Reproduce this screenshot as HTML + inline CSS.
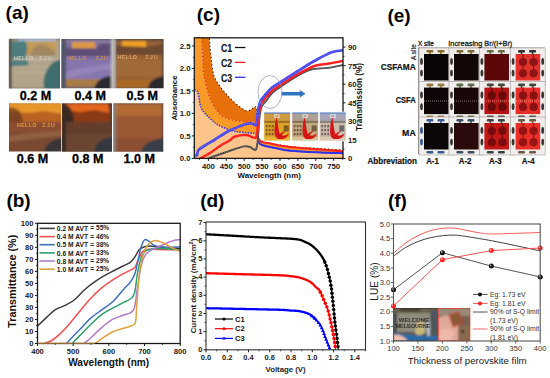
<!DOCTYPE html>
<html><head><meta charset="utf-8"><style>
html,body{margin:0;padding:0;background:#fff;width:550px;height:378px;overflow:hidden}
svg{display:block}
text{font-family:"Liberation Sans",sans-serif}
</style></head><body>
<svg width="550" height="378" viewBox="0 0 550 378">
<rect width="550" height="378" fill="#fff"/>
<text x="5.6" y="19.2" style="font-weight:bold;font-size:19px" fill="#000">(a)</text>
<defs>
<filter id="blr" x="-5%" y="-5%" width="110%" height="110%"><feGaussianBlur stdDeviation="0.9"/></filter>
<filter id="blr2" x="-5%" y="-5%" width="110%" height="110%"><feGaussianBlur stdDeviation="1.6"/></filter>
<clipPath id="ph1"><rect x="8.8" y="38.8" width="51.2" height="49.7"/></clipPath>
<clipPath id="ph2"><rect x="61.3" y="39" width="50.7" height="49.3"/></clipPath>
<clipPath id="ph3"><rect x="112.3" y="39" width="51.3" height="49.3"/></clipPath>
<clipPath id="ph4"><rect x="9" y="103.3" width="52.3" height="48.2"/></clipPath>
<clipPath id="ph5"><rect x="62" y="103.3" width="50" height="48.5"/></clipPath>
<clipPath id="ph6"><rect x="113.3" y="103.3" width="50" height="48.5"/></clipPath>
</defs>
<g clip-path="url(#ph1)"><g filter="url(#blr)">
<rect x="6" y="36" width="58" height="56" fill="#7a7068"/>
<rect x="12" y="40" width="48" height="48" fill="#b0a48a"/>
<rect x="18" y="39" width="38" height="2.5" fill="#a8c0d8"/>
<rect x="22" y="41.5" width="34" height="13" fill="#c49a58"/>
<path d="M34,47 C38,44 44,44 48,47 L55,52 L55,56 L30,56 Z" fill="#8a7a62" opacity="0.6"/>
<path d="M11,41 L25,41 C28,45 28,52 25,57 C27,60 28,62 29,65 L11,67 Z" fill="#4d7d7b"/>
<rect x="12" y="59" width="48" height="1" fill="#c8c0a8"/>
<rect x="12" y="66" width="40" height="1.2" fill="#c0b498" opacity="0.8"/>
<rect x="12" y="72" width="36" height="1.2" fill="#c0b498" opacity="0.8"/>
<path d="M58,60 C51,62 46,70 44,78 C43,84 44,88 45,90 L62,90 L62,60 Z" fill="#3f6e6e"/>


<rect x="8.8" y="38.8" width="2.6" height="50" fill="#5a5048"/>
</g><g opacity="0.85"><text x="14" y="60" style="font-size:5.4px;font-weight:bold;letter-spacing:0.3px" fill="#d8d4c8">HELLO</text><text x="39" y="60" style="font-size:5.6px;font-weight:bold;letter-spacing:1px" fill="#d0ccc0">ZJU</text></g></g>
<g clip-path="url(#ph2)"><g filter="url(#blr)">
<rect x="58" y="36" width="58" height="56" fill="#5a5a6a"/>
<rect x="66" y="40" width="46" height="47" fill="#7c6c9c"/>
<rect x="66" y="40" width="46" height="3" fill="#8a7aa0"/>
<path d="M72,42 L95,42 L96,48.5 L72,48.5 Z" fill="#dc9a44"/>
<path d="M66,48 L72,48.5 L96,48.5 L100,44 L112,43 L112,56 L66,56 Z" fill="#5e4e74"/>
<rect x="66" y="60" width="46" height="20" fill="#8676ae"/>
<path d="M66,72 C80,68 95,66 112,64 L112,69 C95,71 80,75 66,79 Z" fill="#a090c0" opacity="0.6"/>
<rect x="66" y="79" width="46" height="8" fill="#aa7c44"/>
<path d="M94,90 C95,82 101,76 114,76 L114,90 Z" fill="#2a2a32"/>


<rect x="61.3" y="39" width="4.5" height="50" fill="#505868"/>
<rect x="111" y="39" width="2" height="50" fill="#c0c0c4"/>
</g><g opacity="0.85"><text x="67" y="60" style="font-size:5.4px;font-weight:bold;letter-spacing:0.3px" fill="#d8984a">HELLO</text><text x="95.5" y="60" style="font-size:5.6px;font-weight:bold;letter-spacing:1px" fill="#d8984a">ZJU</text></g></g>
<g clip-path="url(#ph3)"><g filter="url(#blr)">
<rect x="109" y="36" width="58" height="56" fill="#5a4a40"/>
<rect x="116" y="41" width="46" height="46" fill="#9a6232"/>
<rect x="122" y="41" width="24" height="6" fill="#f0a020"/>
<path d="M116,45 L122,46 L146,47 L162,44 L162,55 L116,55 Z" fill="#6e4a30"/>
<rect x="116" y="60" width="46" height="16" fill="#a06a38"/>
<rect x="116" y="80" width="46" height="8" fill="#a86a26"/>
<path d="M148,90 C148,82 154,77 166,76 L166,90 Z" fill="#2a2a2e"/>


<rect x="112.3" y="39" width="3" height="50" fill="#c8c8c4"/>
</g><g opacity="0.85"><text x="117.5" y="58.5" style="font-size:5.4px;font-weight:bold;letter-spacing:0.3px" fill="#e0b878">HELLO</text><text x="145.3" y="58.5" style="font-size:5.6px;font-weight:bold;letter-spacing:1px" fill="#d8b070">ZJU</text></g></g>
<g clip-path="url(#ph4)"><g filter="url(#blr)">
<rect x="6" y="100" width="58" height="55" fill="#7a4a30"/>
<rect x="9" y="103" width="53" height="14" fill="#e8962c"/>
<path d="M9,112 L30,113 L45,111 L62,114 L62,122 L9,122 Z" fill="#b86420"/>
<path d="M9,108 C15,106 20,110 22,117 C23,122 22,128 20,134 L9,136 Z" fill="#6a3a22" opacity="0.75"/>
<rect x="9" y="122" width="53" height="10" fill="#8a5030"/>
<rect x="9" y="132" width="53" height="20" fill="#7a4a32"/>
<path d="M9,136 C25,133 40,132 62,131 L62,136 C40,138 25,140 9,142 Z" fill="#9a6a48" opacity="0.7"/>
<path d="M44,153 C45,144 52,139 64,138 L64,153 Z" fill="#3a3438"/>


</g><g opacity="0.85"><text x="17" y="127" style="font-size:5.4px;font-weight:bold;letter-spacing:0.3px" fill="#f0a040">HELLO</text><text x="42.3" y="127" style="font-size:5.6px;font-weight:bold;letter-spacing:1px" fill="#f0a040">ZJU</text></g></g>
<g clip-path="url(#ph5)"><g filter="url(#blr)">
<rect x="59" y="100" width="58" height="55" fill="#5a3a2a"/>
<path d="M66,104 L108,104 L110,116 L66,118 Z" fill="#e4661a"/>
<path d="M66,110 L80,112 L95,110 L110,113 L110,122 L66,122 Z" fill="#8a3a18"/>
<path d="M62,104 C70,104 74,112 74,124 L74,152 L62,152 Z" fill="#3a2a22"/>
<rect x="66" y="122" width="46" height="30" fill="#5e3c2c"/>
<rect x="66" y="134" width="46" height="18" fill="#6a4432"/>
<path d="M94,153 C95,143 101,138 114,137 L114,153 Z" fill="#363840"/>


</g><g opacity="0.85"><text x="70.7" y="127" style="font-size:5.4px;font-weight:bold;letter-spacing:0.3px" fill="#7a4030">HELLO</text><text x="92" y="127" style="font-size:5.6px;font-weight:bold;letter-spacing:1px" fill="#7a4030">ZJU</text></g></g>
<g clip-path="url(#ph6)"><g filter="url(#blr)">
<rect x="110" y="100" width="58" height="55" fill="#6a4a3a"/>
<rect x="116" y="104" width="46" height="12" fill="#b26a34"/>
<rect x="116" y="116" width="46" height="22" fill="#9c5834"/>
<rect x="116" y="138" width="46" height="14" fill="#8c5030"/>
<path d="M140,154 C142,145 150,139 166,138 L166,154 Z" fill="#383c46"/>
<rect x="113.3" y="103.3" width="2.5" height="49" fill="#8a8a88"/>
</g><g opacity="0.85"></g></g>
<text x="35.5" y="99.6" text-anchor="middle" style="font-weight:bold;font-size:12.6px" fill="#000" stroke="#000" stroke-width="0.3">0.2 M</text>
<text x="90.3" y="99.6" text-anchor="middle" style="font-weight:bold;font-size:12.6px" fill="#000" stroke="#000" stroke-width="0.3">0.4 M</text>
<text x="142.2" y="99.6" text-anchor="middle" style="font-weight:bold;font-size:12.6px" fill="#000" stroke="#000" stroke-width="0.3">0.5 M</text>
<text x="32.6" y="162.7" text-anchor="middle" style="font-weight:bold;font-size:12.6px" fill="#000" stroke="#000" stroke-width="0.3">0.6 M</text>
<text x="87.8" y="162.7" text-anchor="middle" style="font-weight:bold;font-size:12.6px" fill="#000" stroke="#000" stroke-width="0.3">0.8 M</text>
<text x="139.3" y="162.7" text-anchor="middle" style="font-weight:bold;font-size:12.6px" fill="#000" stroke="#000" stroke-width="0.3">1.0 M</text>
<text x="6.4" y="207.1" style="font-weight:bold;font-size:19px" fill="#000">(b)</text>
<clipPath id="clipb"><rect x="37.5" y="223.3" width="142.7" height="120.2"/></clipPath>
<path d="M37.50,326.07 C38.99,324.67 43.51,320.36 46.42,317.66 C49.33,314.95 51.95,311.85 54.98,309.84 C58.01,307.84 61.34,307.32 64.61,305.64 C67.88,303.95 71.27,302.39 74.60,299.75 C77.93,297.10 81.26,292.74 84.59,289.77 C87.92,286.81 91.43,284.22 94.58,281.96 C97.73,279.69 100.53,277.95 103.50,276.19 C106.47,274.43 109.15,273.08 112.42,271.38 C115.69,269.68 120.15,267.47 123.12,265.97 C126.09,264.47 128.29,263.87 130.25,262.37 C132.22,260.86 133.41,259.06 134.89,256.96 C136.38,254.85 137.57,251.45 139.17,249.74 C140.78,248.04 142.44,247.34 144.53,246.74 C146.61,246.14 148.69,246.04 151.66,246.14 C154.63,246.24 159.09,247.04 162.36,247.34 C165.63,247.64 168.31,247.74 171.28,247.94 C174.25,248.14 178.71,248.44 180.20,248.54" fill="none" stroke="#3c3c3c" stroke-width="1.5" clip-path="url(#clipb)"/>
<path d="M43.92,343.50 C45.23,343.00 49.09,342.10 51.77,340.50 C54.45,338.89 57.00,336.69 59.98,333.88 C62.95,331.08 66.28,327.47 69.61,323.67 C72.94,319.86 76.56,315.11 79.95,311.05 C83.34,306.98 86.61,302.87 89.94,299.27 C93.27,295.66 96.19,292.60 99.93,289.41 C103.68,286.22 108.55,282.76 112.42,280.15 C116.28,277.55 120.15,275.45 123.12,273.78 C126.09,272.12 128.47,271.08 130.25,270.18 C132.04,269.28 132.87,269.18 133.82,268.38 C134.77,267.57 135.25,266.77 135.96,265.37 C136.68,263.97 137.15,262.06 138.10,259.96 C139.05,257.86 140.48,254.45 141.67,252.75 C142.86,251.05 143.57,250.35 145.24,249.74 C146.90,249.14 148.21,249.14 151.66,249.14 C155.11,249.14 161.17,249.64 165.93,249.74 C170.69,249.84 177.82,249.74 180.20,249.74" fill="none" stroke="#f05050" stroke-width="1.5" clip-path="url(#clipb)"/>
<path d="M66.40,343.50 C67.53,342.30 70.86,338.69 73.17,336.29 C75.49,333.88 77.52,331.98 80.31,329.08 C83.10,326.17 86.37,322.06 89.94,318.86 C93.51,315.65 97.97,312.65 101.71,309.84 C105.46,307.04 108.79,305.44 112.42,302.03 C116.04,298.63 120.50,292.72 123.48,289.41 C126.45,286.10 128.35,284.80 130.25,282.20 C132.16,279.59 133.58,277.49 134.89,273.78 C136.20,270.08 137.09,264.37 138.10,259.96 C139.11,255.55 140.07,250.45 140.96,247.34 C141.85,244.23 142.68,242.63 143.45,241.33 C144.23,240.03 144.52,239.43 145.60,239.53 C146.67,239.63 148.33,240.91 149.88,241.93 C151.42,242.95 152.20,244.76 154.87,245.66 C157.55,246.56 161.71,247.16 165.93,247.34 C170.15,247.52 177.82,246.84 180.20,246.74" fill="none" stroke="#3f72bd" stroke-width="1.5" clip-path="url(#clipb)"/>
<path d="M72.10,343.50 C73.47,342.10 77.34,338.13 80.31,335.09 C83.28,332.04 86.37,328.64 89.94,325.23 C93.51,321.82 97.97,317.48 101.71,314.65 C105.46,311.83 108.85,310.28 112.42,308.28 C115.98,306.28 120.15,304.17 123.12,302.63 C126.09,301.09 128.35,300.63 130.25,299.03 C132.16,297.42 133.35,297.22 134.54,293.02 C135.73,288.81 136.32,279.59 137.39,273.78 C138.46,267.97 139.77,261.76 140.96,258.16 C142.15,254.55 143.34,253.55 144.53,252.15 C145.71,250.75 145.71,250.35 148.09,249.74 C150.47,249.14 153.44,248.54 158.79,248.54 C164.15,248.54 176.63,249.54 180.20,249.74" fill="none" stroke="#2ea06c" stroke-width="1.5" clip-path="url(#clipb)"/>
<path d="M83.88,343.50 C84.89,342.70 87.27,341.10 89.94,338.69 C92.62,336.29 96.19,332.28 99.93,329.08 C103.68,325.87 108.55,321.76 112.42,319.46 C116.28,317.16 120.15,316.35 123.12,315.25 C126.09,314.15 128.35,314.15 130.25,312.85 C132.16,311.55 133.35,311.55 134.54,307.44 C135.73,303.33 136.32,295.02 137.39,288.21 C138.46,281.40 139.77,271.88 140.96,266.57 C142.15,261.26 143.04,258.96 144.53,256.36 C146.01,253.75 146.90,252.85 149.88,250.95 C152.85,249.04 158.50,246.64 162.36,244.94 C166.23,243.23 170.09,241.59 173.06,240.73 C176.04,239.87 179.01,239.93 180.20,239.77" fill="none" stroke="#b07cc8" stroke-width="1.5" clip-path="url(#clipb)"/>
<path d="M94.94,343.50 C96.07,342.70 98.80,340.62 101.71,338.69 C104.63,336.77 108.85,333.66 112.42,331.96 C115.98,330.26 120.15,329.42 123.12,328.48 C126.09,327.53 128.23,327.21 130.25,326.31 C132.28,325.41 134.18,326.21 135.25,323.07 C136.32,319.92 136.14,314.19 136.68,307.44 C137.21,300.69 137.75,289.77 138.46,282.56 C139.17,275.35 139.95,269.44 140.96,264.17 C141.97,258.90 143.22,254.35 144.53,250.95 C145.83,247.54 147.02,245.48 148.81,243.73 C150.59,241.99 152.97,240.69 155.23,240.49 C157.49,240.29 159.69,241.39 162.36,242.53 C165.04,243.67 168.31,245.84 171.28,247.34 C174.25,248.84 178.71,250.85 180.20,251.55" fill="none" stroke="#e0a040" stroke-width="1.5" clip-path="url(#clipb)"/>
<rect x="37.5" y="223.3" width="142.7" height="120.2" fill="none" stroke="#1a1a1a" stroke-width="1.3"/>
<line x1="37.5" y1="343.2" x2="94.9" y2="343.2" stroke="#c89040" stroke-width="1"/>
<line x1="35.0" y1="343.5" x2="37.5" y2="343.5" stroke="#1a1a1a" stroke-width="1"/>
<text x="33.5" y="346.3" text-anchor="end" style="font-weight:bold;font-size:7.6px" fill="#1a1a1a">0</text>
<line x1="35.0" y1="331.5" x2="37.5" y2="331.5" stroke="#1a1a1a" stroke-width="1"/>
<text x="33.5" y="334.3" text-anchor="end" style="font-weight:bold;font-size:7.6px" fill="#1a1a1a">10</text>
<line x1="35.0" y1="319.5" x2="37.5" y2="319.5" stroke="#1a1a1a" stroke-width="1"/>
<text x="33.5" y="322.3" text-anchor="end" style="font-weight:bold;font-size:7.6px" fill="#1a1a1a">20</text>
<line x1="35.0" y1="307.4" x2="37.5" y2="307.4" stroke="#1a1a1a" stroke-width="1"/>
<text x="33.5" y="310.2" text-anchor="end" style="font-weight:bold;font-size:7.6px" fill="#1a1a1a">30</text>
<line x1="35.0" y1="295.4" x2="37.5" y2="295.4" stroke="#1a1a1a" stroke-width="1"/>
<text x="33.5" y="298.2" text-anchor="end" style="font-weight:bold;font-size:7.6px" fill="#1a1a1a">40</text>
<line x1="35.0" y1="283.4" x2="37.5" y2="283.4" stroke="#1a1a1a" stroke-width="1"/>
<text x="33.5" y="286.2" text-anchor="end" style="font-weight:bold;font-size:7.6px" fill="#1a1a1a">50</text>
<line x1="35.0" y1="271.4" x2="37.5" y2="271.4" stroke="#1a1a1a" stroke-width="1"/>
<text x="33.5" y="274.2" text-anchor="end" style="font-weight:bold;font-size:7.6px" fill="#1a1a1a">60</text>
<line x1="35.0" y1="259.4" x2="37.5" y2="259.4" stroke="#1a1a1a" stroke-width="1"/>
<text x="33.5" y="262.2" text-anchor="end" style="font-weight:bold;font-size:7.6px" fill="#1a1a1a">70</text>
<line x1="35.0" y1="247.3" x2="37.5" y2="247.3" stroke="#1a1a1a" stroke-width="1"/>
<text x="33.5" y="250.1" text-anchor="end" style="font-weight:bold;font-size:7.6px" fill="#1a1a1a">80</text>
<line x1="35.0" y1="235.3" x2="37.5" y2="235.3" stroke="#1a1a1a" stroke-width="1"/>
<text x="33.5" y="238.1" text-anchor="end" style="font-weight:bold;font-size:7.6px" fill="#1a1a1a">90</text>
<line x1="35.0" y1="223.3" x2="37.5" y2="223.3" stroke="#1a1a1a" stroke-width="1"/>
<text x="33.5" y="226.1" text-anchor="end" style="font-weight:bold;font-size:7.6px" fill="#1a1a1a">100</text>
<line x1="36.0" y1="337.5" x2="37.5" y2="337.5" stroke="#1a1a1a" stroke-width="0.8"/>
<line x1="36.0" y1="325.5" x2="37.5" y2="325.5" stroke="#1a1a1a" stroke-width="0.8"/>
<line x1="36.0" y1="313.4" x2="37.5" y2="313.4" stroke="#1a1a1a" stroke-width="0.8"/>
<line x1="36.0" y1="301.4" x2="37.5" y2="301.4" stroke="#1a1a1a" stroke-width="0.8"/>
<line x1="36.0" y1="289.4" x2="37.5" y2="289.4" stroke="#1a1a1a" stroke-width="0.8"/>
<line x1="36.0" y1="277.4" x2="37.5" y2="277.4" stroke="#1a1a1a" stroke-width="0.8"/>
<line x1="36.0" y1="265.4" x2="37.5" y2="265.4" stroke="#1a1a1a" stroke-width="0.8"/>
<line x1="36.0" y1="253.3" x2="37.5" y2="253.3" stroke="#1a1a1a" stroke-width="0.8"/>
<line x1="36.0" y1="241.3" x2="37.5" y2="241.3" stroke="#1a1a1a" stroke-width="0.8"/>
<line x1="36.0" y1="229.3" x2="37.5" y2="229.3" stroke="#1a1a1a" stroke-width="0.8"/>
<line x1="37.5" y1="343.5" x2="37.5" y2="346.0" stroke="#1a1a1a" stroke-width="1"/>
<text x="37.5" y="354.2" text-anchor="middle" style="font-weight:bold;font-size:7.6px" fill="#1a1a1a">400</text>
<line x1="73.2" y1="343.5" x2="73.2" y2="346.0" stroke="#1a1a1a" stroke-width="1"/>
<text x="73.2" y="354.2" text-anchor="middle" style="font-weight:bold;font-size:7.6px" fill="#1a1a1a">500</text>
<line x1="108.8" y1="343.5" x2="108.8" y2="346.0" stroke="#1a1a1a" stroke-width="1"/>
<text x="108.8" y="354.2" text-anchor="middle" style="font-weight:bold;font-size:7.6px" fill="#1a1a1a">600</text>
<line x1="144.5" y1="343.5" x2="144.5" y2="346.0" stroke="#1a1a1a" stroke-width="1"/>
<text x="144.5" y="354.2" text-anchor="middle" style="font-weight:bold;font-size:7.6px" fill="#1a1a1a">700</text>
<line x1="180.2" y1="343.5" x2="180.2" y2="346.0" stroke="#1a1a1a" stroke-width="1"/>
<text x="180.2" y="354.2" text-anchor="middle" style="font-weight:bold;font-size:7.6px" fill="#1a1a1a">800</text>
<line x1="55.3" y1="343.5" x2="55.3" y2="345.0" stroke="#1a1a1a" stroke-width="0.8"/>
<line x1="91.0" y1="343.5" x2="91.0" y2="345.0" stroke="#1a1a1a" stroke-width="0.8"/>
<line x1="126.7" y1="343.5" x2="126.7" y2="345.0" stroke="#1a1a1a" stroke-width="0.8"/>
<line x1="162.4" y1="343.5" x2="162.4" y2="345.0" stroke="#1a1a1a" stroke-width="0.8"/>
<text x="108.7" y="365.6" text-anchor="middle" style="font-weight:bold;font-size:10.1px" fill="#111">Wavelength (nm)</text>
<text transform="translate(15.5,281.2) rotate(-90)" text-anchor="middle" style="font-weight:bold;font-size:10.8px" fill="#111">Transmittance (%)</text>
<line x1="39.5" y1="228.4" x2="54.8" y2="228.4" stroke="#3c3c3c" stroke-width="1.6"/>
<text x="56.8" y="231.0" textLength="31.3" lengthAdjust="spacingAndGlyphs" style="font-weight:bold;font-size:6.9px" fill="#222">0.2 M AVT</text>
<text x="90.3" y="230.3" textLength="18.9" lengthAdjust="spacingAndGlyphs" style="font-weight:bold;font-size:6.9px" fill="#222">= 55%</text>
<line x1="39.5" y1="236.6" x2="54.8" y2="236.6" stroke="#f05050" stroke-width="1.6"/>
<text x="56.8" y="239.2" textLength="31.3" lengthAdjust="spacingAndGlyphs" style="font-weight:bold;font-size:6.9px" fill="#222">0.4 M AVT</text>
<text x="90.3" y="238.5" textLength="18.9" lengthAdjust="spacingAndGlyphs" style="font-weight:bold;font-size:6.9px" fill="#222">= 46%</text>
<line x1="39.5" y1="244.7" x2="54.8" y2="244.7" stroke="#3f72bd" stroke-width="1.6"/>
<text x="56.8" y="247.3" textLength="31.3" lengthAdjust="spacingAndGlyphs" style="font-weight:bold;font-size:6.9px" fill="#222">0.5 M AVT</text>
<text x="90.3" y="246.6" textLength="18.9" lengthAdjust="spacingAndGlyphs" style="font-weight:bold;font-size:6.9px" fill="#222">= 38%</text>
<line x1="39.5" y1="252.9" x2="54.8" y2="252.9" stroke="#2ea06c" stroke-width="1.6"/>
<text x="56.8" y="255.5" textLength="31.3" lengthAdjust="spacingAndGlyphs" style="font-weight:bold;font-size:6.9px" fill="#222">0.6 M AVT</text>
<text x="90.3" y="254.8" textLength="18.9" lengthAdjust="spacingAndGlyphs" style="font-weight:bold;font-size:6.9px" fill="#222">= 33%</text>
<line x1="39.5" y1="261.0" x2="54.8" y2="261.0" stroke="#b07cc8" stroke-width="1.6"/>
<text x="56.8" y="263.6" textLength="31.3" lengthAdjust="spacingAndGlyphs" style="font-weight:bold;font-size:6.9px" fill="#222">0.8 M AVT</text>
<text x="90.3" y="262.9" textLength="18.9" lengthAdjust="spacingAndGlyphs" style="font-weight:bold;font-size:6.9px" fill="#222">= 29%</text>
<line x1="39.5" y1="269.2" x2="54.8" y2="269.2" stroke="#e0a040" stroke-width="1.6"/>
<text x="56.8" y="271.8" textLength="31.3" lengthAdjust="spacingAndGlyphs" style="font-weight:bold;font-size:6.9px" fill="#222">1.0 M AVT</text>
<text x="90.3" y="271.1" textLength="18.9" lengthAdjust="spacingAndGlyphs" style="font-weight:bold;font-size:6.9px" fill="#222">= 25%</text>
<text x="196.8" y="21" style="font-weight:bold;font-size:19px" fill="#000">(c)</text>
<clipPath id="clipc"><rect x="194.3" y="37.8" width="148.7" height="120.6"/></clipPath>
<polygon points="194.30,89.50 194.58,89.65 194.96,89.77 195.41,89.91 195.91,90.11 196.43,90.40 196.93,90.82 197.40,91.41 197.80,92.20 198.14,93.28 198.44,94.65 198.72,96.21 198.98,97.89 199.22,99.60 199.47,101.24 199.73,102.74 200.00,104.00 200.25,105.01 200.45,105.86 200.64,106.59 200.84,107.24 201.07,107.86 201.38,108.50 201.78,109.19 202.30,110.00 202.97,110.92 203.76,111.91 204.65,112.94 205.60,114.00 206.59,115.06 207.59,116.09 208.57,117.08 209.50,118.00 210.39,118.86 211.26,119.69 212.13,120.48 213.00,121.25 213.88,121.98 214.76,122.69 215.67,123.36 216.60,124.00 217.54,124.60 218.48,125.15 219.43,125.67 220.39,126.16 221.38,126.63 222.41,127.09 223.48,127.54 224.60,128.00 225.75,128.47 226.92,128.93 228.12,129.40 229.36,129.85 230.66,130.28 232.02,130.69 233.46,131.07 235.00,131.40 236.72,131.69 238.64,131.95 240.68,132.17 242.78,132.36 244.83,132.54 246.78,132.70 248.52,132.85 250.00,133.00 251.21,133.12 252.24,133.20 253.12,133.25 253.86,133.30 254.49,133.36 255.04,133.45 255.54,133.59 256.00,133.80 256.39,134.07 256.66,134.39 256.84,134.75 256.95,135.14 257.03,135.56 257.09,136.02 257.17,136.50 257.30,137.00 257.44,137.55 257.55,138.17 257.66,138.83 257.76,139.51 257.89,140.19 258.04,140.85 258.24,141.46 258.50,142.00 258.76,142.47 258.99,142.89 259.23,143.27 259.51,143.62 259.89,143.96 260.40,144.30 261.09,144.64 262.00,145.00 263.16,145.38 264.54,145.76 266.09,146.15 267.78,146.53 269.56,146.91 271.39,147.29 273.21,147.65 275.00,148.00 276.68,148.34 278.26,148.68 279.82,149.00 281.44,149.33 283.19,149.64 285.15,149.94 287.39,150.22 290.00,150.50 293.08,150.77 296.60,151.02 300.44,151.27 304.47,151.51 308.57,151.74 312.61,151.94 316.46,152.13 320.00,152.30 323.41,152.44 326.88,152.57 330.32,152.67 333.62,152.76 336.69,152.84 339.43,152.90 341.73,152.95 343.50,153.00 343.5,158.4 194.3,158.4" fill="#fdc48c" clip-path="url(#clipc)"/>
<polygon points="194.30,36.80 201.30,20.00 201.33,21.28 201.37,22.87 201.41,24.75 201.46,26.91 201.52,29.31 201.59,31.94 201.69,34.78 201.80,37.80 201.94,41.26 202.10,45.29 202.29,49.68 202.49,54.22 202.69,58.70 202.90,62.91 203.11,66.65 203.30,69.70 203.48,72.00 203.64,73.73 203.79,75.03 203.94,76.03 204.11,76.89 204.31,77.74 204.53,78.73 204.80,80.00 205.11,81.51 205.45,83.11 205.81,84.77 206.20,86.46 206.62,88.15 207.05,89.83 207.52,91.45 208.00,93.00 208.52,94.50 209.08,95.98 209.67,97.45 210.28,98.88 210.90,100.26 211.52,101.58 212.12,102.83 212.70,104.00 213.25,105.08 213.79,106.08 214.31,107.01 214.83,107.88 215.35,108.70 215.89,109.48 216.43,110.25 217.00,111.00 217.56,111.73 218.08,112.41 218.60,113.07 219.14,113.69 219.73,114.29 220.38,114.87 221.13,115.44 222.00,116.00 222.98,116.56 224.05,117.12 225.21,117.66 226.44,118.19 227.74,118.69 229.10,119.16 230.52,119.60 232.00,120.00 233.59,120.36 235.34,120.70 237.18,121.01 239.06,121.28 240.94,121.52 242.76,121.72 244.46,121.88 246.00,122.00 247.42,122.04 248.78,122.00 250.07,121.91 251.28,121.78 252.39,121.65 253.39,121.54 254.27,121.48 255.00,121.50 255.55,121.55 255.91,121.61 256.13,121.67 256.25,121.78 256.30,121.95 256.34,122.19 256.39,122.54 256.50,123.00 256.65,123.60 256.79,124.34 256.91,125.18 257.03,126.09 257.15,127.06 257.26,128.05 257.38,129.04 257.50,130.00 257.61,130.98 257.71,132.04 257.81,133.12 257.91,134.22 258.02,135.29 258.14,136.29 258.30,137.21 258.50,138.00 258.70,138.66 258.87,139.23 259.04,139.71 259.25,140.12 259.52,140.50 259.88,140.84 260.37,141.17 261.00,141.50 261.74,141.81 262.54,142.08 263.42,142.31 264.41,142.52 265.53,142.73 266.82,142.95 268.30,143.20 270.00,143.50 271.91,143.85 273.99,144.24 276.25,144.65 278.69,145.08 281.28,145.51 284.04,145.94 286.95,146.33 290.00,146.70 293.32,147.04 296.95,147.36 300.80,147.66 304.78,147.96 308.79,148.24 312.72,148.50 316.49,148.76 320.00,149.00 323.41,149.24 326.88,149.47 330.32,149.69 333.62,149.89 336.69,150.08 339.43,150.25 341.73,150.39 343.50,150.50 343.50,153.00 341.73,152.95 339.43,152.90 336.69,152.84 333.62,152.76 330.32,152.67 326.88,152.57 323.41,152.44 320.00,152.30 316.46,152.13 312.61,151.94 308.57,151.74 304.47,151.51 300.44,151.27 296.60,151.02 293.08,150.77 290.00,150.50 287.39,150.22 285.15,149.94 283.19,149.64 281.44,149.33 279.82,149.00 278.26,148.68 276.68,148.34 275.00,148.00 273.21,147.65 271.39,147.29 269.56,146.91 267.78,146.53 266.09,146.15 264.54,145.76 263.16,145.38 262.00,145.00 261.09,144.64 260.40,144.30 259.89,143.96 259.51,143.62 259.23,143.27 258.99,142.89 258.76,142.47 258.50,142.00 258.24,141.46 258.04,140.85 257.89,140.19 257.76,139.51 257.66,138.83 257.55,138.17 257.44,137.55 257.30,137.00 257.17,136.50 257.09,136.02 257.03,135.56 256.95,135.14 256.84,134.75 256.66,134.39 256.39,134.07 256.00,133.80 255.54,133.59 255.04,133.45 254.49,133.36 253.86,133.30 253.12,133.25 252.24,133.20 251.21,133.12 250.00,133.00 248.52,132.85 246.78,132.70 244.83,132.54 242.78,132.36 240.68,132.17 238.64,131.95 236.72,131.69 235.00,131.40 233.46,131.07 232.02,130.69 230.66,130.28 229.36,129.85 228.12,129.40 226.92,128.93 225.75,128.47 224.60,128.00 223.48,127.54 222.41,127.09 221.38,126.63 220.39,126.16 219.43,125.67 218.48,125.15 217.54,124.60 216.60,124.00 215.67,123.36 214.76,122.69 213.88,121.98 213.00,121.25 212.13,120.48 211.26,119.69 210.39,118.86 209.50,118.00 208.57,117.08 207.59,116.09 206.59,115.06 205.60,114.00 204.65,112.94 203.76,111.91 202.97,110.92 202.30,110.00 201.78,109.19 201.38,108.50 201.07,107.86 200.84,107.24 200.64,106.59 200.45,105.86 200.25,105.01 200.00,104.00 199.73,102.74 199.47,101.24 199.22,99.60 198.98,97.89 198.72,96.21 198.44,94.65 198.14,93.28 197.80,92.20 197.40,91.41 196.93,90.82 196.43,90.40 195.91,90.11 195.41,89.91 194.96,89.77 194.58,89.65 194.30,89.50" fill="#f89a28" clip-path="url(#clipc)"/>
<polygon points="208.60,20.00 208.66,21.40 208.74,23.28 208.83,25.53 208.93,28.01 209.04,30.61 209.16,33.19 209.28,35.63 209.40,37.80 209.51,39.71 209.62,41.47 209.73,43.13 209.84,44.76 209.97,46.41 210.12,48.13 210.29,49.97 210.50,52.00 210.74,54.30 211.02,56.87 211.32,59.60 211.64,62.39 211.97,65.12 212.31,67.71 212.66,70.03 213.00,72.00 213.32,73.57 213.62,74.82 213.92,75.83 214.23,76.69 214.56,77.45 214.94,78.21 215.38,79.03 215.90,80.00 216.51,81.09 217.20,82.23 217.96,83.39 218.76,84.56 219.58,85.73 220.41,86.87 221.22,87.96 222.00,89.00 222.75,89.98 223.51,90.91 224.26,91.82 225.01,92.69 225.75,93.54 226.50,94.37 227.25,95.19 228.00,96.00 228.75,96.80 229.50,97.59 230.25,98.37 231.00,99.12 231.75,99.87 232.50,100.59 233.25,101.30 234.00,102.00 234.76,102.69 235.55,103.38 236.34,104.06 237.12,104.72 237.90,105.35 238.64,105.95 239.35,106.50 240.00,107.00 240.60,107.44 241.16,107.82 241.69,108.16 242.19,108.47 242.66,108.75 243.12,109.00 243.56,109.25 244.00,109.50 244.42,109.75 244.82,110.00 245.20,110.25 245.56,110.47 245.92,110.66 246.27,110.82 246.63,110.94 247.00,111.00 247.38,111.00 247.75,110.95 248.12,110.85 248.50,110.72 248.88,110.56 249.25,110.38 249.62,110.19 250.00,110.00 250.38,109.79 250.77,109.56 251.17,109.30 251.56,109.03 251.95,108.76 252.32,108.49 252.67,108.23 253.00,108.00 253.30,107.77 253.59,107.52 253.86,107.27 254.11,107.03 254.35,106.82 254.58,106.65 254.80,106.54 255.00,106.50 255.19,106.49 255.37,106.46 255.53,106.47 255.68,106.53 255.81,106.68 255.95,106.96 256.07,107.39 256.20,108.00 256.31,108.79 256.41,109.71 256.50,110.78 256.58,111.97 256.67,113.29 256.76,114.74 256.87,116.31 257.00,118.00 257.15,119.96 257.30,122.24 257.47,124.74 257.64,127.31 257.83,129.85 258.04,132.23 258.26,134.32 258.50,136.00 258.72,137.27 258.90,138.23 259.08,138.96 259.28,139.50 259.54,139.92 259.89,140.27 260.37,140.61 261.00,141.00 261.74,141.38 262.54,141.68 263.42,141.90 264.41,142.09 265.53,142.27 266.82,142.46 268.30,142.70 270.00,143.00 271.91,143.38 273.99,143.80 276.25,144.27 278.69,144.75 281.28,145.23 284.04,145.70 286.95,146.12 290.00,146.50 293.32,146.83 296.95,147.12 300.80,147.38 304.78,147.62 308.79,147.85 312.72,148.07 316.49,148.28 320.00,148.50 323.41,148.72 326.88,148.95 330.32,149.17 333.62,149.38 336.69,149.57 339.43,149.74 341.73,149.89 343.50,150.00 343.50,150.50 341.73,150.39 339.43,150.25 336.69,150.08 333.62,149.89 330.32,149.69 326.88,149.47 323.41,149.24 320.00,149.00 316.49,148.76 312.72,148.50 308.79,148.24 304.78,147.96 300.80,147.66 296.95,147.36 293.32,147.04 290.00,146.70 286.95,146.33 284.04,145.94 281.28,145.51 278.69,145.08 276.25,144.65 273.99,144.24 271.91,143.85 270.00,143.50 268.30,143.20 266.82,142.95 265.53,142.73 264.41,142.52 263.42,142.31 262.54,142.08 261.74,141.81 261.00,141.50 260.37,141.17 259.88,140.84 259.52,140.50 259.25,140.12 259.04,139.71 258.87,139.23 258.70,138.66 258.50,138.00 258.30,137.21 258.14,136.29 258.02,135.29 257.91,134.22 257.81,133.12 257.71,132.04 257.61,130.98 257.50,130.00 257.38,129.04 257.26,128.05 257.15,127.06 257.03,126.09 256.91,125.18 256.79,124.34 256.65,123.60 256.50,123.00 256.39,122.54 256.34,122.19 256.30,121.95 256.25,121.78 256.13,121.67 255.91,121.61 255.55,121.55 255.00,121.50 254.27,121.48 253.39,121.54 252.39,121.65 251.28,121.78 250.07,121.91 248.78,122.00 247.42,122.04 246.00,122.00 244.46,121.88 242.76,121.72 240.94,121.52 239.06,121.28 237.18,121.01 235.34,120.70 233.59,120.36 232.00,120.00 230.52,119.60 229.10,119.16 227.74,118.69 226.44,118.19 225.21,117.66 224.05,117.12 222.98,116.56 222.00,116.00 221.13,115.44 220.38,114.87 219.73,114.29 219.14,113.69 218.60,113.07 218.08,112.41 217.56,111.73 217.00,111.00 216.43,110.25 215.89,109.48 215.35,108.70 214.83,107.88 214.31,107.01 213.79,106.08 213.25,105.08 212.70,104.00 212.12,102.83 211.52,101.58 210.90,100.26 210.28,98.88 209.67,97.45 209.08,95.98 208.52,94.50 208.00,93.00 207.52,91.45 207.05,89.83 206.62,88.15 206.20,86.46 205.81,84.77 205.45,83.11 205.11,81.51 204.80,80.00 204.53,78.73 204.31,77.74 204.11,76.89 203.94,76.03 203.79,75.03 203.64,73.73 203.48,72.00 203.30,69.70 203.11,66.65 202.90,62.91 202.69,58.70 202.49,54.22 202.29,49.68 202.10,45.29 201.94,41.26 201.80,37.80 201.69,34.78 201.59,31.94 201.52,29.31 201.46,26.91 201.41,24.75 201.37,22.87 201.33,21.28 201.30,20.00" fill="#e8700a" clip-path="url(#clipc)"/>
<path d="M208.60,20.00 C208.73,22.97 209.08,32.47 209.40,37.80 C209.72,43.13 209.90,46.30 210.50,52.00 C211.10,57.70 212.10,67.33 213.00,72.00 C213.90,76.67 214.40,77.17 215.90,80.00 C217.40,82.83 219.98,86.33 222.00,89.00 C224.02,91.67 226.00,93.83 228.00,96.00 C230.00,98.17 232.00,100.17 234.00,102.00 C236.00,103.83 238.33,105.75 240.00,107.00 C241.67,108.25 242.83,108.83 244.00,109.50 C245.17,110.17 246.00,110.92 247.00,111.00 C248.00,111.08 249.00,110.50 250.00,110.00 C251.00,109.50 252.17,108.58 253.00,108.00 C253.83,107.42 254.47,106.50 255.00,106.50 C255.53,106.50 255.87,106.08 256.20,108.00 C256.53,109.92 256.62,113.33 257.00,118.00 C257.38,122.67 257.83,132.17 258.50,136.00 C259.17,139.83 259.08,139.83 261.00,141.00 C262.92,142.17 265.17,142.08 270.00,143.00 C274.83,143.92 281.67,145.58 290.00,146.50 C298.33,147.42 311.08,147.92 320.00,148.50 C328.92,149.08 339.58,149.75 343.50,150.00" fill="none" stroke="#111" stroke-width="1.1" stroke-dasharray="1.1,2.6" clip-path="url(#clipc)"/>
<path d="M201.30,20.00 C201.38,22.97 201.47,29.52 201.80,37.80 C202.13,46.08 202.80,62.67 203.30,69.70 C203.80,76.73 204.02,76.12 204.80,80.00 C205.58,83.88 206.68,89.00 208.00,93.00 C209.32,97.00 211.20,101.00 212.70,104.00 C214.20,107.00 215.45,109.00 217.00,111.00 C218.55,113.00 219.50,114.50 222.00,116.00 C224.50,117.50 228.00,119.00 232.00,120.00 C236.00,121.00 242.17,121.75 246.00,122.00 C249.83,122.25 253.25,121.33 255.00,121.50 C256.75,121.67 256.08,121.58 256.50,123.00 C256.92,124.42 257.17,127.50 257.50,130.00 C257.83,132.50 257.92,136.08 258.50,138.00 C259.08,139.92 259.08,140.58 261.00,141.50 C262.92,142.42 265.17,142.63 270.00,143.50 C274.83,144.37 281.67,145.78 290.00,146.70 C298.33,147.62 311.08,148.37 320.00,149.00 C328.92,149.63 339.58,150.25 343.50,150.50" fill="none" stroke="#ee2020" stroke-width="1.1" stroke-dasharray="1.2,2.4" clip-path="url(#clipc)"/>
<path d="M194.30,89.50 C194.88,89.95 196.85,89.78 197.80,92.20 C198.75,94.62 199.25,101.03 200.00,104.00 C200.75,106.97 200.72,107.67 202.30,110.00 C203.88,112.33 207.12,115.67 209.50,118.00 C211.88,120.33 214.08,122.33 216.60,124.00 C219.12,125.67 221.53,126.77 224.60,128.00 C227.67,129.23 230.77,130.57 235.00,131.40 C239.23,132.23 246.50,132.60 250.00,133.00 C253.50,133.40 254.78,133.13 256.00,133.80 C257.22,134.47 256.88,135.63 257.30,137.00 C257.72,138.37 257.72,140.67 258.50,142.00 C259.28,143.33 259.25,144.00 262.00,145.00 C264.75,146.00 270.33,147.08 275.00,148.00 C279.67,148.92 282.50,149.78 290.00,150.50 C297.50,151.22 311.08,151.88 320.00,152.30 C328.92,152.72 339.58,152.88 343.50,153.00" fill="none" stroke="#3434e0" stroke-width="1.5" stroke-dasharray="1.5,1.2" clip-path="url(#clipc)"/>
<path d="M258.50,138.00 C258.92,138.58 259.08,140.58 261.00,141.50 C262.92,142.42 265.17,142.58 270.00,143.50 C274.83,144.42 281.67,146.00 290.00,147.00 C298.33,148.00 311.08,148.75 320.00,149.50 C328.92,150.25 339.58,151.17 343.50,151.50" fill="none" stroke="#ff2020" stroke-width="2" clip-path="url(#clipc)"/>
<path d="M258.50,142.00 C259.08,142.50 259.25,144.00 262.00,145.00 C264.75,146.00 270.33,147.03 275.00,148.00 C279.67,148.97 282.50,150.05 290.00,150.80 C297.50,151.55 311.08,152.10 320.00,152.50 C328.92,152.90 339.58,153.08 343.50,153.20" fill="none" stroke="#3030e8" stroke-width="2" clip-path="url(#clipc)"/>
<path d="M208.00,158.60 C209.17,158.17 212.17,157.02 215.00,156.00 C217.83,154.98 222.17,153.50 225.00,152.50 C227.83,151.50 228.83,151.02 232.00,150.00 C235.17,148.98 241.00,146.90 244.00,146.40 C247.00,145.90 248.50,146.57 250.00,147.00 C251.50,147.43 252.00,148.58 253.00,149.00 C254.00,149.42 255.23,150.67 256.00,149.50 C256.77,148.33 257.20,144.92 257.60,142.00 C258.00,139.08 258.13,135.67 258.40,132.00 C258.67,128.33 258.90,123.33 259.20,120.00 C259.50,116.67 259.82,114.17 260.20,112.00 C260.58,109.83 260.90,108.42 261.50,107.00 C262.10,105.58 262.88,104.70 263.80,103.50 C264.72,102.30 265.68,101.47 267.00,99.80 C268.32,98.13 269.53,95.58 271.70,93.50 C273.87,91.42 275.75,90.22 280.00,87.30 C284.25,84.38 292.03,78.97 297.20,76.00 C302.37,73.03 305.87,70.85 311.00,69.50 C316.13,68.15 322.67,68.65 328.00,67.90 C333.33,67.15 340.50,65.48 343.00,65.00" fill="none" stroke="#484848" stroke-width="1.9" clip-path="url(#clipc)"/>
<path d="M208.00,158.60 C209.17,158.17 212.17,157.02 215.00,156.00 C217.83,154.98 222.17,153.50 225.00,152.50 C227.83,151.50 228.83,151.02 232.00,150.00 C235.17,148.98 241.00,146.90 244.00,146.40 C247.00,145.90 248.50,146.57 250.00,147.00 C251.50,147.43 252.00,148.58 253.00,149.00 C254.00,149.42 255.23,150.67 256.00,149.50 C256.77,148.33 257.20,144.92 257.60,142.00 C258.00,139.08 258.13,135.67 258.40,132.00 C258.67,128.33 258.90,123.33 259.20,120.00 C259.50,116.67 259.82,114.17 260.20,112.00 C260.58,109.83 260.90,108.42 261.50,107.00 C262.10,105.58 262.88,104.70 263.80,103.50 C264.72,102.30 265.68,101.47 267.00,99.80 C268.32,98.13 269.53,95.58 271.70,93.50 C273.87,91.42 275.75,90.22 280.00,87.30 C284.25,84.38 292.03,78.97 297.20,76.00 C302.37,73.03 305.87,70.85 311.00,69.50 C316.13,68.15 322.67,68.65 328.00,67.90 C333.33,67.15 340.50,65.48 343.00,65.00" fill="none" stroke="#909090" stroke-width="0.7" stroke-dasharray="0.8,1.6" clip-path="url(#clipc)"/>
<path d="M200.00,158.60 C201.67,157.67 206.67,155.10 210.00,153.00 C213.33,150.90 216.75,148.08 220.00,146.00 C223.25,143.92 227.00,142.08 229.50,140.50 C232.00,138.92 232.25,137.42 235.00,136.50 C237.75,135.58 243.17,134.92 246.00,135.00 C248.83,135.08 250.33,136.58 252.00,137.00 C253.67,137.42 255.08,138.67 256.00,137.50 C256.92,136.33 257.10,132.92 257.50,130.00 C257.90,127.08 258.10,123.17 258.40,120.00 C258.70,116.83 258.93,113.50 259.30,111.00 C259.67,108.50 260.05,106.58 260.60,105.00 C261.15,103.42 261.70,102.80 262.60,101.50 C263.50,100.20 264.48,98.95 266.00,97.20 C267.52,95.45 269.37,92.98 271.70,91.00 C274.03,89.02 275.75,88.05 280.00,85.30 C284.25,82.55 291.47,77.72 297.20,74.50 C302.93,71.28 309.27,67.80 314.40,66.00 C319.53,64.20 323.23,64.53 328.00,63.70 C332.77,62.87 340.50,61.45 343.00,61.00" fill="none" stroke="#ff2020" stroke-width="2.4" clip-path="url(#clipc)"/>
<path d="M195.00,155.50 C195.33,155.42 196.42,155.92 197.00,155.00 C197.58,154.08 197.17,151.58 198.50,150.00 C199.83,148.42 202.37,147.17 205.00,145.50 C207.63,143.83 210.80,142.17 214.30,140.00 C217.80,137.83 222.55,134.45 226.00,132.50 C229.45,130.55 231.83,129.67 235.00,128.30 C238.17,126.93 242.17,125.10 245.00,124.30 C247.83,123.50 250.17,123.38 252.00,123.50 C253.83,123.62 255.13,125.92 256.00,125.00 C256.87,124.08 256.83,120.50 257.20,118.00 C257.57,115.50 257.82,112.33 258.20,110.00 C258.58,107.67 258.95,105.75 259.50,104.00 C260.05,102.25 260.42,101.17 261.50,99.50 C262.58,97.83 264.30,95.95 266.00,94.00 C267.70,92.05 269.37,89.75 271.70,87.80 C274.03,85.85 275.75,85.02 280.00,82.30 C284.25,79.58 291.47,75.05 297.20,71.50 C302.93,67.95 308.67,64.20 314.40,61.00 C320.13,57.80 326.83,54.08 331.60,52.30 C336.37,50.52 341.10,50.63 343.00,50.30" fill="none" stroke="#4646ee" stroke-width="2.7" clip-path="url(#clipc)"/>
<path d="M195.00,155.50 C195.33,155.42 196.42,155.92 197.00,155.00 C197.58,154.08 197.17,151.58 198.50,150.00 C199.83,148.42 202.37,147.17 205.00,145.50 C207.63,143.83 210.80,142.17 214.30,140.00 C217.80,137.83 222.55,134.45 226.00,132.50 C229.45,130.55 231.83,129.67 235.00,128.30 C238.17,126.93 242.17,125.10 245.00,124.30 C247.83,123.50 250.17,123.38 252.00,123.50 C253.83,123.62 255.13,125.92 256.00,125.00 C256.87,124.08 256.83,120.50 257.20,118.00 C257.57,115.50 257.82,112.33 258.20,110.00 C258.58,107.67 258.95,105.75 259.50,104.00 C260.05,102.25 260.42,101.17 261.50,99.50 C262.58,97.83 264.30,95.95 266.00,94.00 C267.70,92.05 269.37,89.75 271.70,87.80 C274.03,85.85 275.75,85.02 280.00,82.30 C284.25,79.58 291.47,75.05 297.20,71.50 C302.93,67.95 308.67,64.20 314.40,61.00 C320.13,57.80 326.83,54.08 331.60,52.30 C336.37,50.52 341.10,50.63 343.00,50.30" fill="none" stroke="#8888ff" stroke-width="0.8" stroke-dasharray="0.9,1.5" clip-path="url(#clipc)"/>
<ellipse cx="270" cy="92" rx="12" ry="16.5" fill="none" stroke="#8898b8" stroke-width="0.7"/>
<path d="M281.6,92 L299.8,92 L299.8,90.1 L305.5,93.8 L299.8,97.5 L299.8,95.6 L281.6,95.6 Z" fill="#2f74c0"/>
<rect x="194.3" y="37.8" width="148.7" height="120.6" fill="none" stroke="#1a1a1a" stroke-width="1.3"/>
<line x1="191.8" y1="158.4" x2="194.3" y2="158.4" stroke="#1a1a1a" stroke-width="1"/>
<text x="190.5" y="161.2" text-anchor="end" style="font-weight:bold;font-size:7.8px" fill="#1a1a1a">0.0</text>
<line x1="191.8" y1="135.9" x2="194.3" y2="135.9" stroke="#1a1a1a" stroke-width="1"/>
<text x="190.5" y="138.7" text-anchor="end" style="font-weight:bold;font-size:7.8px" fill="#1a1a1a">0.5</text>
<line x1="191.8" y1="113.4" x2="194.3" y2="113.4" stroke="#1a1a1a" stroke-width="1"/>
<text x="190.5" y="116.2" text-anchor="end" style="font-weight:bold;font-size:7.8px" fill="#1a1a1a">1.0</text>
<line x1="191.8" y1="90.9" x2="194.3" y2="90.9" stroke="#1a1a1a" stroke-width="1"/>
<text x="190.5" y="93.7" text-anchor="end" style="font-weight:bold;font-size:7.8px" fill="#1a1a1a">1.5</text>
<line x1="191.8" y1="68.4" x2="194.3" y2="68.4" stroke="#1a1a1a" stroke-width="1"/>
<text x="190.5" y="71.2" text-anchor="end" style="font-weight:bold;font-size:7.8px" fill="#1a1a1a">2.0</text>
<line x1="191.8" y1="45.9" x2="194.3" y2="45.9" stroke="#1a1a1a" stroke-width="1"/>
<text x="190.5" y="48.7" text-anchor="end" style="font-weight:bold;font-size:7.8px" fill="#1a1a1a">2.5</text>
<line x1="192.8" y1="147.2" x2="194.3" y2="147.2" stroke="#1a1a1a" stroke-width="0.8"/>
<line x1="192.8" y1="124.7" x2="194.3" y2="124.7" stroke="#1a1a1a" stroke-width="0.8"/>
<line x1="192.8" y1="102.2" x2="194.3" y2="102.2" stroke="#1a1a1a" stroke-width="0.8"/>
<line x1="192.8" y1="79.7" x2="194.3" y2="79.7" stroke="#1a1a1a" stroke-width="0.8"/>
<line x1="192.8" y1="57.2" x2="194.3" y2="57.2" stroke="#1a1a1a" stroke-width="0.8"/>
<line x1="343.0" y1="158.4" x2="345.5" y2="158.4" stroke="#1a1a1a" stroke-width="1"/>
<text x="348" y="161.2" style="font-weight:bold;font-size:7.8px" fill="#1a1a1a">0</text>
<line x1="343.0" y1="139.8" x2="345.5" y2="139.8" stroke="#1a1a1a" stroke-width="1"/>
<text x="348" y="142.7" style="font-weight:bold;font-size:7.8px" fill="#1a1a1a">15</text>
<line x1="343.0" y1="121.3" x2="345.5" y2="121.3" stroke="#1a1a1a" stroke-width="1"/>
<text x="348" y="124.1" style="font-weight:bold;font-size:7.8px" fill="#1a1a1a">30</text>
<line x1="343.0" y1="102.8" x2="345.5" y2="102.8" stroke="#1a1a1a" stroke-width="1"/>
<text x="348" y="105.5" style="font-weight:bold;font-size:7.8px" fill="#1a1a1a">45</text>
<line x1="343.0" y1="84.2" x2="345.5" y2="84.2" stroke="#1a1a1a" stroke-width="1"/>
<text x="348" y="87.0" style="font-weight:bold;font-size:7.8px" fill="#1a1a1a">60</text>
<line x1="343.0" y1="65.7" x2="345.5" y2="65.7" stroke="#1a1a1a" stroke-width="1"/>
<text x="348" y="68.5" style="font-weight:bold;font-size:7.8px" fill="#1a1a1a">75</text>
<line x1="343.0" y1="47.1" x2="345.5" y2="47.1" stroke="#1a1a1a" stroke-width="1"/>
<text x="348" y="49.9" style="font-weight:bold;font-size:7.8px" fill="#1a1a1a">90</text>
<line x1="343.0" y1="149.1" x2="344.5" y2="149.1" stroke="#1a1a1a" stroke-width="0.8"/>
<line x1="343.0" y1="130.6" x2="344.5" y2="130.6" stroke="#1a1a1a" stroke-width="0.8"/>
<line x1="343.0" y1="112.0" x2="344.5" y2="112.0" stroke="#1a1a1a" stroke-width="0.8"/>
<line x1="343.0" y1="93.5" x2="344.5" y2="93.5" stroke="#1a1a1a" stroke-width="0.8"/>
<line x1="343.0" y1="74.9" x2="344.5" y2="74.9" stroke="#1a1a1a" stroke-width="0.8"/>
<line x1="343.0" y1="56.4" x2="344.5" y2="56.4" stroke="#1a1a1a" stroke-width="0.8"/>
<filter id="blc" x="-10%" y="-10%" width="120%" height="120%"><feGaussianBlur stdDeviation="0.55"/></filter>
<clipPath id="cpc1"><rect x="264.2" y="112.4" width="25.9" height="28.2"/></clipPath>
<rect x="263.4" y="111.6" width="27.5" height="29.8" fill="#f4f4f4"/>
<g clip-path="url(#cpc1)"><g filter="url(#blc)"><rect x="262.2" y="110.4" width="29.9" height="32.2" fill="#dca42a"/><rect x="262.2" y="111.4" width="29.9" height="2.4" fill="#4a7ccc"/><rect x="262.2" y="113.8" width="29.9" height="7" fill="#d09a40"/><rect x="262.2" y="120.8" width="29.9" height="2.2" fill="#6a4a18" opacity="0.55"/><rect x="265.7" y="124.9" width="1.8" height="2.4" fill="#6a4a18" opacity="0.85"/><rect x="265.7" y="128.9" width="1.8" height="2.4" fill="#6a4a18" opacity="0.85"/><rect x="265.7" y="132.9" width="1.8" height="2.4" fill="#6a4a18" opacity="0.85"/><rect x="268.7" y="124.9" width="1.8" height="2.4" fill="#6a4a18" opacity="0.85"/><rect x="268.7" y="128.9" width="1.8" height="2.4" fill="#6a4a18" opacity="0.85"/><rect x="268.7" y="132.9" width="1.8" height="2.4" fill="#6a4a18" opacity="0.85"/><rect x="271.7" y="124.9" width="1.8" height="2.4" fill="#6a4a18" opacity="0.85"/><rect x="271.7" y="128.9" width="1.8" height="2.4" fill="#6a4a18" opacity="0.85"/><rect x="271.7" y="132.9" width="1.8" height="2.4" fill="#6a4a18" opacity="0.85"/><rect x="283.7" y="125.4" width="5" height="6" fill="#6a4a18" opacity="0.8"/><rect x="262.2" y="137.2" width="29.9" height="3.4" fill="#e8b830"/><path d="M276.7,116.4 C275.2,121.4 274.2,127.4 274.5,132.4 C274.8,136.4 276.2,138.4 278.2,138.9 L283.2,138.9 C285.7,138.4 287.7,136.4 289.2,133.4 L286.2,134.9 C284.7,135.9 282.7,135.9 281.7,134.9 L285.7,130.4 L282.7,131.9 L279.7,133.9 C278.2,129.4 277.8,122.4 276.7,116.4 Z" fill="#d41818"/></g></g>
<text x="277.2" y="117.6" text-anchor="middle" style="font-size:4.6px;font-weight:bold" fill="#f4f4f4">C1</text>
<clipPath id="cpc2"><rect x="292.2" y="112.4" width="25.9" height="28.2"/></clipPath>
<rect x="291.4" y="111.6" width="27.5" height="29.8" fill="#f4f4f4"/>
<g clip-path="url(#cpc2)"><g filter="url(#blc)"><rect x="290.2" y="110.4" width="29.9" height="32.2" fill="#c4aa80"/><rect x="290.2" y="111.4" width="29.9" height="2.4" fill="#4a7ccc"/><rect x="290.2" y="113.8" width="29.9" height="7" fill="#aca090"/><rect x="290.2" y="120.8" width="29.9" height="2.2" fill="#5a4838" opacity="0.55"/><rect x="293.7" y="124.9" width="1.8" height="2.4" fill="#5a4838" opacity="0.85"/><rect x="293.7" y="128.9" width="1.8" height="2.4" fill="#5a4838" opacity="0.85"/><rect x="293.7" y="132.9" width="1.8" height="2.4" fill="#5a4838" opacity="0.85"/><rect x="296.7" y="124.9" width="1.8" height="2.4" fill="#5a4838" opacity="0.85"/><rect x="296.7" y="128.9" width="1.8" height="2.4" fill="#5a4838" opacity="0.85"/><rect x="296.7" y="132.9" width="1.8" height="2.4" fill="#5a4838" opacity="0.85"/><rect x="299.7" y="124.9" width="1.8" height="2.4" fill="#5a4838" opacity="0.85"/><rect x="299.7" y="128.9" width="1.8" height="2.4" fill="#5a4838" opacity="0.85"/><rect x="299.7" y="132.9" width="1.8" height="2.4" fill="#5a4838" opacity="0.85"/><rect x="311.7" y="125.4" width="5" height="6" fill="#5a4838" opacity="0.8"/><rect x="290.2" y="137.2" width="29.9" height="3.4" fill="#dcc498"/><path d="M304.7,116.4 C303.2,121.4 302.2,127.4 302.5,132.4 C302.8,136.4 304.2,138.4 306.2,138.9 L311.2,138.9 C313.7,138.4 315.7,136.4 317.2,133.4 L314.2,134.9 C312.7,135.9 310.7,135.9 309.7,134.9 L313.7,130.4 L310.7,131.9 L307.7,133.9 C306.2,129.4 305.8,122.4 304.7,116.4 Z" fill="#d41818"/></g></g>
<text x="305.2" y="117.6" text-anchor="middle" style="font-size:4.6px;font-weight:bold" fill="#f4f4f4">C2</text>
<clipPath id="cpc3"><rect x="319.8" y="112.4" width="25.9" height="28.2"/></clipPath>
<rect x="319.0" y="111.6" width="27.5" height="29.8" fill="#f4f4f4"/>
<g clip-path="url(#cpc3)"><g filter="url(#blc)"><rect x="317.8" y="110.4" width="29.9" height="32.2" fill="#ccbcac"/><rect x="317.8" y="111.4" width="29.9" height="2.4" fill="#4a7ccc"/><rect x="317.8" y="113.8" width="29.9" height="7" fill="#a8a4b8"/><rect x="317.8" y="120.8" width="29.9" height="2.2" fill="#5a5058" opacity="0.55"/><rect x="321.3" y="124.9" width="1.8" height="2.4" fill="#5a5058" opacity="0.85"/><rect x="321.3" y="128.9" width="1.8" height="2.4" fill="#5a5058" opacity="0.85"/><rect x="321.3" y="132.9" width="1.8" height="2.4" fill="#5a5058" opacity="0.85"/><rect x="324.3" y="124.9" width="1.8" height="2.4" fill="#5a5058" opacity="0.85"/><rect x="324.3" y="128.9" width="1.8" height="2.4" fill="#5a5058" opacity="0.85"/><rect x="324.3" y="132.9" width="1.8" height="2.4" fill="#5a5058" opacity="0.85"/><rect x="327.3" y="124.9" width="1.8" height="2.4" fill="#5a5058" opacity="0.85"/><rect x="327.3" y="128.9" width="1.8" height="2.4" fill="#5a5058" opacity="0.85"/><rect x="327.3" y="132.9" width="1.8" height="2.4" fill="#5a5058" opacity="0.85"/><rect x="339.3" y="125.4" width="5" height="6" fill="#5a5058" opacity="0.8"/><rect x="317.8" y="137.2" width="29.9" height="3.4" fill="#dccab0"/><path d="M332.3,116.4 C330.8,121.4 329.8,127.4 330.1,132.4 C330.4,136.4 331.8,138.4 333.8,138.9 L338.8,138.9 C341.3,138.4 343.3,136.4 344.8,133.4 L341.8,134.9 C340.3,135.9 338.3,135.9 337.3,134.9 L341.3,130.4 L338.3,131.9 L335.3,133.9 C333.8,129.4 333.4,122.4 332.3,116.4 Z" fill="#d41818"/></g></g>
<text x="332.8" y="117.6" text-anchor="middle" style="font-size:4.6px;font-weight:bold" fill="#f4f4f4">C3</text>
<line x1="208.4" y1="158.4" x2="208.4" y2="160.9" stroke="#1a1a1a" stroke-width="1"/>
<text x="208.4" y="168.5" text-anchor="middle" style="font-weight:bold;font-size:7.8px" fill="#1a1a1a">400</text>
<line x1="226.3" y1="158.4" x2="226.3" y2="160.9" stroke="#1a1a1a" stroke-width="1"/>
<text x="226.3" y="168.5" text-anchor="middle" style="font-weight:bold;font-size:7.8px" fill="#1a1a1a">450</text>
<line x1="244.2" y1="158.4" x2="244.2" y2="160.9" stroke="#1a1a1a" stroke-width="1"/>
<text x="244.2" y="168.5" text-anchor="middle" style="font-weight:bold;font-size:7.8px" fill="#1a1a1a">500</text>
<line x1="262.1" y1="158.4" x2="262.1" y2="160.9" stroke="#1a1a1a" stroke-width="1"/>
<text x="262.1" y="168.5" text-anchor="middle" style="font-weight:bold;font-size:7.8px" fill="#1a1a1a">550</text>
<line x1="280.0" y1="158.4" x2="280.0" y2="160.9" stroke="#1a1a1a" stroke-width="1"/>
<text x="280.0" y="168.5" text-anchor="middle" style="font-weight:bold;font-size:7.8px" fill="#1a1a1a">600</text>
<line x1="297.9" y1="158.4" x2="297.9" y2="160.9" stroke="#1a1a1a" stroke-width="1"/>
<text x="297.9" y="168.5" text-anchor="middle" style="font-weight:bold;font-size:7.8px" fill="#1a1a1a">650</text>
<line x1="315.8" y1="158.4" x2="315.8" y2="160.9" stroke="#1a1a1a" stroke-width="1"/>
<text x="315.8" y="168.5" text-anchor="middle" style="font-weight:bold;font-size:7.8px" fill="#1a1a1a">700</text>
<line x1="333.7" y1="158.4" x2="333.7" y2="160.9" stroke="#1a1a1a" stroke-width="1"/>
<text x="333.7" y="168.5" text-anchor="middle" style="font-weight:bold;font-size:7.8px" fill="#1a1a1a">750</text>
<line x1="199.5" y1="158.4" x2="199.5" y2="159.9" stroke="#1a1a1a" stroke-width="0.8"/>
<line x1="217.3" y1="158.4" x2="217.3" y2="159.9" stroke="#1a1a1a" stroke-width="0.8"/>
<line x1="235.2" y1="158.4" x2="235.2" y2="159.9" stroke="#1a1a1a" stroke-width="0.8"/>
<line x1="253.2" y1="158.4" x2="253.2" y2="159.9" stroke="#1a1a1a" stroke-width="0.8"/>
<line x1="271.1" y1="158.4" x2="271.1" y2="159.9" stroke="#1a1a1a" stroke-width="0.8"/>
<line x1="288.9" y1="158.4" x2="288.9" y2="159.9" stroke="#1a1a1a" stroke-width="0.8"/>
<line x1="306.9" y1="158.4" x2="306.9" y2="159.9" stroke="#1a1a1a" stroke-width="0.8"/>
<line x1="324.8" y1="158.4" x2="324.8" y2="159.9" stroke="#1a1a1a" stroke-width="0.8"/>
<line x1="342.6" y1="158.4" x2="342.6" y2="159.9" stroke="#1a1a1a" stroke-width="0.8"/>
<text x="269.2" y="178.4" text-anchor="middle" style="font-weight:bold;font-size:7.9px" fill="#111">Wavelength (nm)</text>
<text transform="translate(177,98) rotate(-90)" text-anchor="middle" style="font-weight:bold;font-size:7.8px" fill="#111">Absorbance</text>
<text transform="translate(361.6,97) rotate(-90)" text-anchor="middle" style="font-weight:bold;font-size:8.2px" fill="#111">Transmission (%)</text>
<text x="221" y="51.9" textLength="11.2" lengthAdjust="spacingAndGlyphs" style="font-weight:bold;font-size:11px" fill="#111" stroke="#111" stroke-width="0.15">C1</text>
<line x1="234.9" y1="47.5" x2="245.5" y2="47.5" stroke="#111" stroke-width="1.3"/>
<text x="221" y="66.8" textLength="11.2" lengthAdjust="spacingAndGlyphs" style="font-weight:bold;font-size:11px" fill="#111" stroke="#111" stroke-width="0.15">C2</text>
<line x1="234.9" y1="62.4" x2="245.5" y2="62.4" stroke="#ee2020" stroke-width="1.3"/>
<text x="221" y="81.7" textLength="11.2" lengthAdjust="spacingAndGlyphs" style="font-weight:bold;font-size:11px" fill="#111" stroke="#111" stroke-width="0.15">C3</text>
<line x1="234.9" y1="77.3" x2="245.5" y2="77.3" stroke="#3030e0" stroke-width="1.3"/>
<text x="200.2" y="207.1" style="font-weight:bold;font-size:19px" fill="#000">(d)</text>
<clipPath id="clipd"><rect x="206.0" y="222.0" width="159.5" height="128.8"/></clipPath>
<polyline points="206.00,234.30 206.65,234.34 207.40,234.38 208.24,234.42 209.17,234.47 210.17,234.52 211.25,234.58 212.39,234.64 213.58,234.71 214.83,234.77 216.12,234.84 217.46,234.92 218.82,234.99 220.20,235.06 221.60,235.14 223.02,235.22 224.43,235.29 225.85,235.37 227.25,235.45 228.64,235.52 230.00,235.60 231.36,235.68 232.76,235.76 234.17,235.84 235.62,235.92 237.08,236.00 238.56,236.09 240.06,236.18 241.57,236.27 243.09,236.35 244.62,236.44 246.17,236.53 247.71,236.62 249.26,236.71 250.81,236.80 252.36,236.89 253.90,236.97 255.44,237.06 256.97,237.14 258.49,237.22 260.00,237.30 261.52,237.38 263.09,237.45 264.69,237.53 266.32,237.60 267.97,237.68 269.63,237.75 271.30,237.82 272.96,237.89 274.61,237.96 276.25,238.03 277.86,238.10 279.44,238.17 280.98,238.24 282.47,238.30 283.91,238.37 285.28,238.44 286.58,238.50 287.81,238.57 288.95,238.63 290.00,238.70 290.96,238.76 291.83,238.82 292.63,238.88 293.36,238.94 294.02,239.00 294.63,239.05 295.18,239.10 295.68,239.16 296.14,239.21 296.56,239.26 296.95,239.32 297.32,239.37 297.67,239.43 298.00,239.49 298.32,239.55 298.64,239.61 298.96,239.68 299.29,239.75 299.64,239.82 300.00,239.90 300.36,239.98 300.70,240.07 301.02,240.15 301.32,240.24 301.60,240.33 301.87,240.43 302.12,240.52 302.36,240.62 302.59,240.72 302.81,240.83 303.03,240.93 303.24,241.03 303.45,241.14 303.66,241.25 303.87,241.35 304.08,241.46 304.30,241.57 304.52,241.68 304.76,241.79 305.00,241.90 305.25,242.01 305.50,242.12 305.75,242.22 306.00,242.33 306.25,242.43 306.50,242.54 306.75,242.65 307.00,242.75 307.25,242.86 307.50,242.97 307.75,243.09 308.00,243.21 308.25,243.33 308.50,243.45 308.75,243.58 309.00,243.71 309.25,243.85 309.50,243.99 309.75,244.14 310.00,244.30 310.25,244.46 310.50,244.63 310.75,244.80 311.00,244.97 311.25,245.15 311.50,245.34 311.75,245.52 312.00,245.71 312.25,245.91 312.50,246.11 312.75,246.31 313.00,246.52 313.25,246.73 313.50,246.94 313.75,247.16 314.00,247.38 314.25,247.60 314.50,247.83 314.75,248.06 315.00,248.30 315.25,248.54 315.50,248.79 315.76,249.04 316.02,249.29 316.27,249.55 316.53,249.81 316.79,250.08 317.05,250.35 317.31,250.62 317.56,250.90 317.82,251.18 318.07,251.46 318.32,251.75 318.57,252.04 318.82,252.33 319.06,252.62 319.30,252.91 319.54,253.21 319.77,253.50 320.00,253.80 320.22,254.10 320.44,254.40 320.66,254.70 320.88,255.00 321.09,255.30 321.31,255.60 321.51,255.91 321.72,256.22 321.92,256.53 322.12,256.84 322.32,257.16 322.52,257.48 322.71,257.81 322.90,258.13 323.09,258.47 323.28,258.80 323.46,259.14 323.65,259.49 323.82,259.84 324.00,260.20 324.17,260.56 324.35,260.94 324.51,261.31 324.68,261.70 324.84,262.09 325.00,262.49 325.16,262.89 325.32,263.29 325.47,263.70" fill="none" stroke="#000" stroke-width="2.3" stroke-linejoin="round" clip-path="url(#clipd)"/>
<polyline points="324.00,260.20 324.17,260.56 324.35,260.94 324.51,261.31 324.68,261.70 324.84,262.09 325.00,262.49 325.16,262.89 325.32,263.29 325.47,263.70 325.62,264.11 325.77,264.52 325.92,264.93 326.06,265.34 326.20,265.76 326.34,266.17 326.48,266.58 326.61,266.99 326.75,267.40 326.87,267.80 327.00,268.20 327.12,268.60 327.24,268.99 327.35,269.38 327.46,269.76 327.57,270.14 327.67,270.53 327.77,270.91 327.87,271.29 327.97,271.67 328.06,272.06 328.16,272.44 328.25,272.83 328.34,273.22 328.43,273.62 328.52,274.01 328.62,274.42 328.71,274.83 328.80,275.25 328.90,275.67 329.00,276.10 329.10,276.53 329.20,276.93 329.30,277.33 329.39,277.72 329.49,278.10 329.59,278.48 329.68,278.86 329.78,279.24 329.88,279.64 329.97,280.04 330.07,280.47 330.17,280.91 330.27,281.38 330.37,281.87 330.47,282.39 330.57,282.95 330.68,283.55 330.78,284.19 330.89,284.87 331.00,285.60 331.11,286.39 331.23,287.24 331.35,288.15 331.47,289.11 331.59,290.11 331.72,291.15 331.84,292.22 331.97,293.32 332.10,294.44 332.23,295.57 332.35,296.71 332.48,297.85 332.60,299.00 332.73,300.13 332.85,301.24 332.96,302.34 333.08,303.41 333.19,304.45 333.30,305.45 333.40,306.40 333.50,307.32 333.59,308.23 333.68,309.13 333.77,310.01 333.85,310.89 333.94,311.75 334.02,312.60 334.09,313.44 334.17,314.26 334.24,315.08 334.32,315.89 334.39,316.69 334.46,317.48 334.54,318.26 334.61,319.04 334.69,319.80 334.76,320.56 334.84,321.31 334.92,322.06 335.00,322.80 335.08,323.53 335.17,324.24 335.25,324.94 335.34,325.62 335.42,326.29 335.51,326.95 335.59,327.60 335.68,328.24 335.76,328.88 335.85,329.51 335.94,330.13 336.02,330.76 336.11,331.39 336.19,332.02 336.28,332.65 336.36,333.28 336.45,333.92 336.53,334.57 336.62,335.23 336.70,335.90 336.78,336.59 336.87,337.32 336.96,338.07 337.05,338.85 337.14,339.64 337.24,340.45 337.33,341.26 337.42,342.07 337.52,342.87 337.61,343.67 337.69,344.45 337.78,345.20 337.86,345.93 337.94,346.63 338.01,347.28 338.08,347.90 338.15,348.46 338.21,348.97 338.26,349.42 338.30,349.80" fill="none" stroke="#000" stroke-width="1.2" clip-path="url(#clipd)"/>
<polyline points="206.00,273.20 207.07,273.23 208.34,273.27 209.77,273.31 211.37,273.35 213.10,273.40 214.96,273.45 216.93,273.51 218.98,273.57 221.12,273.63 223.31,273.69 225.55,273.75 227.82,273.81 230.09,273.88 232.37,273.94 234.62,274.01 236.83,274.07 238.99,274.13 241.09,274.19 243.09,274.25 245.00,274.30 246.87,274.35 248.77,274.40 250.71,274.46 252.66,274.51 254.62,274.56 256.58,274.61 258.54,274.67 260.49,274.72 262.41,274.77 264.31,274.82 266.17,274.87 267.99,274.92 269.76,274.97 271.46,275.02 273.10,275.07 274.66,275.11 276.14,275.16 277.53,275.21 278.82,275.25 280.00,275.30 281.06,275.34 282.01,275.38 282.85,275.42 283.60,275.46 284.26,275.50 284.84,275.53 285.35,275.56 285.80,275.60 286.20,275.63 286.56,275.66 286.89,275.70 287.20,275.73 287.50,275.77 287.79,275.81 288.09,275.85 288.40,275.89 288.74,275.94 289.11,275.99 289.53,276.04 290.00,276.10 290.50,276.16 291.00,276.22 291.50,276.27 292.00,276.33 292.50,276.39 293.00,276.45 293.50,276.51 294.00,276.57 294.50,276.63 295.00,276.70 295.50,276.77 296.00,276.85 296.50,276.93 297.00,277.02 297.50,277.11 298.00,277.21 298.50,277.32 299.00,277.44 299.50,277.56 300.00,277.70 300.50,277.84 301.02,278.00 301.54,278.16 302.06,278.32 302.59,278.50 303.13,278.68 303.66,278.86 304.19,279.06 304.72,279.25 305.25,279.46 305.77,279.66 306.29,279.88 306.80,280.09 307.29,280.31 307.78,280.54 308.26,280.77 308.72,281.00 309.16,281.23 309.59,281.46 310.00,281.70 310.39,281.94 310.77,282.20 311.14,282.46 311.50,282.74 311.84,283.02 312.17,283.31 312.50,283.60 312.81,283.90 313.11,284.20 313.41,284.49 313.69,284.79 313.97,285.09 314.24,285.38 314.51,285.66 314.77,285.94 315.02,286.22 315.27,286.48 315.52,286.73 315.76,286.97 316.00,287.20 316.23,287.41 316.45,287.59 316.65,287.76 316.85,287.90 317.03,288.04 317.21,288.16 317.38,288.28 317.54,288.39 317.70,288.50 317.86,288.61 318.01,288.73 318.16,288.85 318.32,288.99 318.47,289.14 318.63,289.30 318.79,289.49 318.96,289.70 319.13,289.94 319.31,290.20 319.50,290.50 319.70,290.83 319.90,291.18 320.10,291.56 320.31,291.96 320.52,292.38 320.74,292.82 320.95,293.28 321.17,293.74" fill="none" stroke="#ff0000" stroke-width="2.3" stroke-linejoin="round" clip-path="url(#clipd)"/>
<polyline points="319.31,290.20 319.50,290.50 319.70,290.83 319.90,291.18 320.10,291.56 320.31,291.96 320.52,292.38 320.74,292.82 320.95,293.28 321.17,293.74 321.39,294.23 321.61,294.72 321.83,295.22 322.06,295.73 322.28,296.24 322.50,296.75 322.72,297.27 322.94,297.79 323.16,298.30 323.37,298.81 323.59,299.31 323.80,299.80 324.01,300.29 324.22,300.77 324.44,301.26 324.65,301.74 324.86,302.23 325.08,302.71 325.29,303.20 325.50,303.69 325.71,304.18 325.92,304.68 326.13,305.18 326.34,305.69 326.55,306.20 326.75,306.72 326.95,307.25 327.15,307.78 327.34,308.32 327.53,308.87 327.72,309.43 327.90,310.00 328.08,310.58 328.25,311.17 328.42,311.78 328.59,312.39 328.76,313.01 328.92,313.64 329.08,314.28 329.24,314.92 329.39,315.57 329.54,316.22 329.69,316.87 329.84,317.53 329.99,318.19 330.14,318.86 330.28,319.52 330.43,320.18 330.57,320.84 330.71,321.50 330.86,322.15 331.00,322.80 331.14,323.45 331.28,324.09 331.42,324.74 331.56,325.39 331.70,326.04 331.83,326.68 331.97,327.33 332.10,327.98 332.23,328.63 332.36,329.28 332.49,329.93 332.62,330.59 332.75,331.24 332.87,331.90 333.00,332.56 333.12,333.22 333.24,333.89 333.36,334.56 333.48,335.23 333.60,335.90 333.72,336.59 333.84,337.32 333.96,338.07 334.09,338.85 334.21,339.64 334.33,340.45 334.46,341.26 334.58,342.07 334.70,342.87 334.81,343.67 334.93,344.45 335.04,345.20 335.14,345.93 335.24,346.63 335.33,347.28 335.42,347.90 335.50,348.46 335.58,348.97 335.64,349.42 335.70,349.80" fill="none" stroke="#ff0000" stroke-width="1.2" clip-path="url(#clipd)"/>
<polyline points="206.00,308.20 207.07,308.22 208.34,308.25 209.77,308.28 211.37,308.31 213.10,308.34 214.96,308.38 216.93,308.42 218.98,308.46 221.12,308.51 223.31,308.55 225.55,308.60 227.82,308.64 230.09,308.69 232.37,308.73 234.62,308.78 236.83,308.83 238.99,308.87 241.09,308.92 243.09,308.96 245.00,309.00 246.87,309.04 248.77,309.08 250.71,309.12 252.66,309.16 254.62,309.20 256.58,309.24 258.54,309.28 260.49,309.32 262.41,309.37 264.31,309.41 266.17,309.45 267.99,309.49 269.76,309.53 271.46,309.57 273.10,309.61 274.66,309.65 276.14,309.69 277.53,309.72 278.82,309.76 280.00,309.80 281.06,309.84 282.01,309.87 282.85,309.91 283.60,309.94 284.26,309.98 284.84,310.01 285.35,310.05 285.80,310.08 286.20,310.12 286.56,310.15 286.89,310.18 287.20,310.22 287.50,310.25 287.79,310.29 288.09,310.32 288.40,310.36 288.74,310.39 289.11,310.43 289.53,310.46 290.00,310.50 290.50,310.53 291.00,310.56 291.50,310.59 292.00,310.61 292.50,310.63 293.00,310.65 293.50,310.67 294.00,310.69 294.50,310.71 295.00,310.74 295.50,310.76 296.00,310.80 296.50,310.83 297.00,310.87 297.50,310.92 298.00,310.98 298.50,311.04 299.00,311.12 299.50,311.20 300.00,311.30 300.50,311.40 301.01,311.51 301.52,311.62 302.03,311.73 302.55,311.85 303.06,311.98 303.58,312.11 304.10,312.24 304.61,312.39 305.12,312.54 305.64,312.70 306.14,312.86 306.65,313.04 307.15,313.23 307.64,313.43 308.13,313.64 308.61,313.86 309.08,314.09 309.55,314.34 310.00,314.60 310.45,314.88 310.90,315.18 311.35,315.50 311.79,315.83 312.23,316.18 312.67,316.55 313.11,316.92 313.54,317.31 313.96,317.70 314.38,318.10 314.78,318.50 315.18,318.91 315.58,319.31 315.96,319.72" fill="none" stroke="#0000ff" stroke-width="2.3" stroke-linejoin="round" clip-path="url(#clipd)"/>
<polyline points="312.23,316.18 312.67,316.55 313.11,316.92 313.54,317.31 313.96,317.70 314.38,318.10 314.78,318.50 315.18,318.91 315.58,319.31 315.96,319.72 316.33,320.12 316.69,320.51 317.04,320.90 317.37,321.28 317.69,321.65 318.00,322.00 318.29,322.34 318.56,322.67 318.82,322.98 319.06,323.29 319.28,323.59 319.49,323.88 319.70,324.17 319.89,324.46 320.07,324.75 320.25,325.04 320.42,325.34 320.59,325.64 320.76,325.95 320.93,326.27 321.09,326.60 321.26,326.95 321.44,327.31 321.62,327.68 321.80,328.08 322.00,328.50 322.20,328.94 322.40,329.41 322.61,329.90 322.81,330.41 323.02,330.94 323.22,331.48 323.43,332.03 323.63,332.60 323.84,333.17 324.04,333.74 324.25,334.32 324.45,334.90 324.65,335.47 324.85,336.04 325.05,336.60 325.24,337.15 325.44,337.69 325.63,338.21 325.82,338.72 326.00,339.20 326.18,339.67 326.37,340.15 326.56,340.62 326.74,341.09 326.93,341.56 327.12,342.03 327.30,342.49 327.49,342.94 327.67,343.38 327.84,343.82 328.02,344.24 328.19,344.66 328.35,345.06 328.51,345.45 328.66,345.82 328.80,346.17 328.94,346.51 329.07,346.83 329.19,347.12 329.30,347.40 329.40,347.65 329.49,347.89 329.57,348.10 329.65,348.29 329.71,348.46 329.77,348.62 329.83,348.76 329.88,348.89 329.92,349.01 329.96,349.11 329.99,349.21 330.02,349.29 330.05,349.37 330.07,349.44 330.09,349.50 330.12,349.57 330.14,349.63 330.16,349.68 330.18,349.74 330.20,349.80" fill="none" stroke="#0000ff" stroke-width="1.2" clip-path="url(#clipd)"/>
<circle cx="324.8" cy="262.1" r="1.75" fill="#000"/>
<circle cx="326.2" cy="265.8" r="1.75" fill="#000"/>
<circle cx="327.4" cy="269.6" r="1.75" fill="#000"/>
<circle cx="328.4" cy="273.4" r="1.75" fill="#000"/>
<circle cx="329.3" cy="277.3" r="1.75" fill="#000"/>
<circle cx="330.2" cy="281.1" r="1.75" fill="#000"/>
<circle cx="330.9" cy="285.2" r="1.75" fill="#000"/>
<circle cx="331.5" cy="289.1" r="1.75" fill="#000"/>
<circle cx="332.0" cy="293.3" r="1.75" fill="#000"/>
<circle cx="332.4" cy="297.3" r="1.75" fill="#000"/>
<circle cx="332.8" cy="301.2" r="1.75" fill="#000"/>
<circle cx="333.3" cy="305.4" r="1.75" fill="#000"/>
<circle cx="333.7" cy="309.6" r="1.75" fill="#000"/>
<circle cx="334.1" cy="313.9" r="1.75" fill="#000"/>
<circle cx="334.5" cy="317.9" r="1.75" fill="#000"/>
<circle cx="334.9" cy="322.1" r="1.75" fill="#000"/>
<circle cx="335.4" cy="326.0" r="1.75" fill="#000"/>
<circle cx="335.9" cy="330.1" r="1.75" fill="#000"/>
<circle cx="336.5" cy="334.2" r="1.75" fill="#000"/>
<circle cx="337.0" cy="338.5" r="1.75" fill="#000"/>
<circle cx="337.5" cy="342.5" r="1.75" fill="#000"/>
<circle cx="337.9" cy="346.6" r="1.75" fill="#000"/>
<circle cx="320.4" cy="292.2" r="1.75" fill="#ff0000"/>
<circle cx="322.1" cy="295.7" r="1.75" fill="#ff0000"/>
<circle cx="323.7" cy="299.6" r="1.75" fill="#ff0000"/>
<circle cx="325.3" cy="303.2" r="1.75" fill="#ff0000"/>
<circle cx="326.9" cy="307.0" r="1.75" fill="#ff0000"/>
<circle cx="328.2" cy="310.9" r="1.75" fill="#ff0000"/>
<circle cx="329.2" cy="314.9" r="1.75" fill="#ff0000"/>
<circle cx="330.1" cy="318.9" r="1.75" fill="#ff0000"/>
<circle cx="331.0" cy="322.8" r="1.75" fill="#ff0000"/>
<circle cx="331.8" cy="326.7" r="1.75" fill="#ff0000"/>
<circle cx="332.6" cy="330.6" r="1.75" fill="#ff0000"/>
<circle cx="333.4" cy="334.6" r="1.75" fill="#ff0000"/>
<circle cx="334.0" cy="338.5" r="1.75" fill="#ff0000"/>
<circle cx="334.6" cy="342.5" r="1.75" fill="#ff0000"/>
<circle cx="335.2" cy="346.6" r="1.75" fill="#ff0000"/>
<path d="M312.0,313.9 L313.9,317.3 L310.1,317.3 Z" fill="#0000ff"/>
<path d="M314.4,316.0 L316.3,319.4 L312.5,319.4 Z" fill="#0000ff"/>
<path d="M316.5,318.2 L318.4,321.6 L314.6,321.6 Z" fill="#0000ff"/>
<path d="M318.6,320.6 L320.5,324.0 L316.7,324.0 Z" fill="#0000ff"/>
<path d="M320.3,323.1 L322.2,326.5 L318.4,326.5 Z" fill="#0000ff"/>
<path d="M321.7,325.8 L323.6,329.2 L319.8,329.2 Z" fill="#0000ff"/>
<path d="M322.9,328.6 L324.8,332.0 L321.0,332.0 Z" fill="#0000ff"/>
<path d="M324.0,331.6 L325.9,335.0 L322.1,335.0 Z" fill="#0000ff"/>
<path d="M325.0,334.5 L326.9,337.9 L323.1,337.9 Z" fill="#0000ff"/>
<path d="M326.1,337.3 L328.0,340.7 L324.2,340.7 Z" fill="#0000ff"/>
<path d="M327.2,340.2 L329.1,343.6 L325.3,343.6 Z" fill="#0000ff"/>
<path d="M328.4,343.0 L330.3,346.4 L326.5,346.4 Z" fill="#0000ff"/>
<path d="M329.5,345.8 L331.4,349.2 L327.6,349.2 Z" fill="#0000ff"/>
<rect x="206.0" y="222.0" width="159.5" height="127.8" fill="none" stroke="#333" stroke-width="1.1"/>
<line x1="203.5" y1="349.8" x2="206.0" y2="349.8" stroke="#222" stroke-width="1"/>
<text x="202.5" y="351.9" text-anchor="end" style="font-weight:bold;font-size:7.5px" fill="#222">0</text>
<line x1="203.5" y1="331.6" x2="206.0" y2="331.6" stroke="#222" stroke-width="1"/>
<text x="202.5" y="333.7" text-anchor="end" style="font-weight:bold;font-size:7.5px" fill="#222">1</text>
<line x1="203.5" y1="313.5" x2="206.0" y2="313.5" stroke="#222" stroke-width="1"/>
<text x="202.5" y="315.6" text-anchor="end" style="font-weight:bold;font-size:7.5px" fill="#222">2</text>
<line x1="203.5" y1="295.3" x2="206.0" y2="295.3" stroke="#222" stroke-width="1"/>
<text x="202.5" y="297.4" text-anchor="end" style="font-weight:bold;font-size:7.5px" fill="#222">3</text>
<line x1="203.5" y1="277.1" x2="206.0" y2="277.1" stroke="#222" stroke-width="1"/>
<text x="202.5" y="279.2" text-anchor="end" style="font-weight:bold;font-size:7.5px" fill="#222">4</text>
<line x1="203.5" y1="258.9" x2="206.0" y2="258.9" stroke="#222" stroke-width="1"/>
<text x="202.5" y="261.1" text-anchor="end" style="font-weight:bold;font-size:7.5px" fill="#222">5</text>
<line x1="203.5" y1="240.8" x2="206.0" y2="240.8" stroke="#222" stroke-width="1"/>
<text x="202.5" y="242.9" text-anchor="end" style="font-weight:bold;font-size:7.5px" fill="#222">6</text>
<line x1="203.5" y1="222.6" x2="206.0" y2="222.6" stroke="#222" stroke-width="1"/>
<text x="202.5" y="224.7" text-anchor="end" style="font-weight:bold;font-size:7.5px" fill="#222">7</text>
<line x1="204.5" y1="340.7" x2="206.0" y2="340.7" stroke="#222" stroke-width="0.8"/>
<line x1="204.5" y1="322.5" x2="206.0" y2="322.5" stroke="#222" stroke-width="0.8"/>
<line x1="204.5" y1="304.4" x2="206.0" y2="304.4" stroke="#222" stroke-width="0.8"/>
<line x1="204.5" y1="286.2" x2="206.0" y2="286.2" stroke="#222" stroke-width="0.8"/>
<line x1="204.5" y1="268.0" x2="206.0" y2="268.0" stroke="#222" stroke-width="0.8"/>
<line x1="204.5" y1="249.9" x2="206.0" y2="249.9" stroke="#222" stroke-width="0.8"/>
<line x1="204.5" y1="231.7" x2="206.0" y2="231.7" stroke="#222" stroke-width="0.8"/>
<line x1="206.0" y1="349.8" x2="206.0" y2="352.3" stroke="#222" stroke-width="1"/>
<text x="206.0" y="360.3" text-anchor="middle" style="font-weight:bold;font-size:7.5px" fill="#222">0.0</text>
<line x1="227.3" y1="349.8" x2="227.3" y2="352.3" stroke="#222" stroke-width="1"/>
<text x="227.3" y="360.3" text-anchor="middle" style="font-weight:bold;font-size:7.5px" fill="#222">0.2</text>
<line x1="248.5" y1="349.8" x2="248.5" y2="352.3" stroke="#222" stroke-width="1"/>
<text x="248.5" y="360.3" text-anchor="middle" style="font-weight:bold;font-size:7.5px" fill="#222">0.4</text>
<line x1="269.8" y1="349.8" x2="269.8" y2="352.3" stroke="#222" stroke-width="1"/>
<text x="269.8" y="360.3" text-anchor="middle" style="font-weight:bold;font-size:7.5px" fill="#222">0.6</text>
<line x1="291.0" y1="349.8" x2="291.0" y2="352.3" stroke="#222" stroke-width="1"/>
<text x="291.0" y="360.3" text-anchor="middle" style="font-weight:bold;font-size:7.5px" fill="#222">0.8</text>
<line x1="312.3" y1="349.8" x2="312.3" y2="352.3" stroke="#222" stroke-width="1"/>
<text x="312.3" y="360.3" text-anchor="middle" style="font-weight:bold;font-size:7.5px" fill="#222">1.0</text>
<line x1="333.6" y1="349.8" x2="333.6" y2="352.3" stroke="#222" stroke-width="1"/>
<text x="333.6" y="360.3" text-anchor="middle" style="font-weight:bold;font-size:7.5px" fill="#222">1.2</text>
<line x1="354.8" y1="349.8" x2="354.8" y2="352.3" stroke="#222" stroke-width="1"/>
<text x="354.8" y="360.3" text-anchor="middle" style="font-weight:bold;font-size:7.5px" fill="#222">1.4</text>
<line x1="216.6" y1="349.8" x2="216.6" y2="351.3" stroke="#222" stroke-width="0.8"/>
<line x1="237.9" y1="349.8" x2="237.9" y2="351.3" stroke="#222" stroke-width="0.8"/>
<line x1="259.1" y1="349.8" x2="259.1" y2="351.3" stroke="#222" stroke-width="0.8"/>
<line x1="280.4" y1="349.8" x2="280.4" y2="351.3" stroke="#222" stroke-width="0.8"/>
<line x1="301.7" y1="349.8" x2="301.7" y2="351.3" stroke="#222" stroke-width="0.8"/>
<line x1="322.9" y1="349.8" x2="322.9" y2="351.3" stroke="#222" stroke-width="0.8"/>
<line x1="344.2" y1="349.8" x2="344.2" y2="351.3" stroke="#222" stroke-width="0.8"/>
<line x1="365.5" y1="349.8" x2="365.5" y2="351.3" stroke="#222" stroke-width="0.8"/>
<text x="285.6" y="372" text-anchor="middle" style="font-weight:bold;font-size:7.8px" fill="#222">Voltage (V)</text>
<text transform="translate(196,286) rotate(-90)" text-anchor="middle" style="font-weight:bold;font-size:7.85px" fill="#222">Current density (mA/cm<tspan dy="-2.8" style="font-size:5.5px">2</tspan><tspan dy="2.8">)</tspan></text>
<line x1="214.9" y1="319.0" x2="233" y2="319.0" stroke="#000" stroke-width="1.2"/>
<circle cx="224" cy="319.0" r="1.5" fill="#000"/>
<text x="235" y="321.7" style="font-weight:bold;font-size:7.5px" fill="#111">C1</text>
<line x1="214.9" y1="328.7" x2="233" y2="328.7" stroke="#ff0000" stroke-width="1.2"/>
<circle cx="224" cy="328.7" r="1.5" fill="#ff0000"/>
<text x="235" y="331.4" style="font-weight:bold;font-size:7.5px" fill="#111">C2</text>
<line x1="214.9" y1="338.4" x2="233" y2="338.4" stroke="#0000ff" stroke-width="1.2"/>
<path d="M224,336.6 L225.8,339.6 L222.2,339.6 Z" fill="#0000ff"/>
<text x="235" y="341.1" style="font-weight:bold;font-size:7.5px" fill="#111">C3</text>
<text x="387.4" y="22.1" style="font-weight:bold;font-size:19px" fill="#000">(e)</text>
<rect x="418.4" y="48" width="126" height="105.6" fill="#c8c0bc"/>
<rect x="418.4" y="48" width="126" height="105.6" fill="none" stroke="#777" stroke-width="0.8"/>
<rect x="419.0" y="48.0" width="34.6" height="38.0" fill="#f0eeec" stroke="#a89c98" stroke-width="0.6"/>
<rect x="426.4" y="50.0" width="7" height="2.6" rx="1.2" fill="#8a6a28"/>
<rect x="426.4" y="81.9" width="7" height="2.6" rx="1.2" fill="#8a6a28"/>
<rect x="429.1" y="52.0" width="1.6" height="3" fill="#8a6a28"/>
<rect x="437.5" y="50.0" width="7" height="2.6" rx="1.2" fill="#8a6a28"/>
<rect x="437.5" y="81.9" width="7" height="2.6" rx="1.2" fill="#8a6a28"/>
<rect x="440.2" y="52.0" width="1.6" height="3" fill="#8a6a28"/>
<ellipse cx="421.5" cy="61.4" rx="1.4" ry="3.4" fill="#3a3530"/>
<ellipse cx="451.1" cy="61.4" rx="1.4" ry="3.4" fill="#3a3530"/>
<ellipse cx="421.5" cy="73.1" rx="1.4" ry="3.4" fill="#3a3530"/>
<ellipse cx="451.1" cy="73.1" rx="1.4" ry="3.4" fill="#3a3530"/>
<rect x="424.0" y="54.0" width="24.6" height="26.5" fill="#0a0505"/>
<rect x="449.0" y="48.0" width="34.6" height="38.0" fill="#f0eeec" stroke="#a89c98" stroke-width="0.6"/>
<rect x="456.4" y="50.0" width="7" height="2.6" rx="1.2" fill="#7a6a30"/>
<rect x="456.4" y="81.9" width="7" height="2.6" rx="1.2" fill="#7a6a30"/>
<rect x="459.1" y="52.0" width="1.6" height="3" fill="#7a6a30"/>
<rect x="467.5" y="50.0" width="7" height="2.6" rx="1.2" fill="#7a6a30"/>
<rect x="467.5" y="81.9" width="7" height="2.6" rx="1.2" fill="#7a6a30"/>
<rect x="470.2" y="52.0" width="1.6" height="3" fill="#7a6a30"/>
<ellipse cx="451.5" cy="61.4" rx="1.4" ry="3.4" fill="#3a3530"/>
<ellipse cx="481.1" cy="61.4" rx="1.4" ry="3.4" fill="#3a3530"/>
<ellipse cx="451.5" cy="73.1" rx="1.4" ry="3.4" fill="#3a3530"/>
<ellipse cx="481.1" cy="73.1" rx="1.4" ry="3.4" fill="#3a3530"/>
<rect x="454.0" y="54.0" width="24.6" height="26.5" fill="#120606"/>
<rect x="479.4" y="48.0" width="34.6" height="38.0" fill="#f0eeec" stroke="#a89c98" stroke-width="0.6"/>
<rect x="486.8" y="50.0" width="7" height="2.6" rx="1.2" fill="#6a6a40"/>
<rect x="486.8" y="81.9" width="7" height="2.6" rx="1.2" fill="#6a6a40"/>
<rect x="489.5" y="52.0" width="1.6" height="3" fill="#6a6a40"/>
<rect x="497.9" y="50.0" width="7" height="2.6" rx="1.2" fill="#6a6a40"/>
<rect x="497.9" y="81.9" width="7" height="2.6" rx="1.2" fill="#6a6a40"/>
<rect x="500.6" y="52.0" width="1.6" height="3" fill="#6a6a40"/>
<ellipse cx="481.9" cy="61.4" rx="1.4" ry="3.4" fill="#3a3530"/>
<ellipse cx="511.5" cy="61.4" rx="1.4" ry="3.4" fill="#3a3530"/>
<ellipse cx="481.9" cy="73.1" rx="1.4" ry="3.4" fill="#3a3530"/>
<ellipse cx="511.5" cy="73.1" rx="1.4" ry="3.4" fill="#3a3530"/>
<rect x="484.4" y="54.0" width="24.6" height="26.5" fill="#5c0808"/>
<rect x="510.6" y="48.0" width="34.6" height="38.0" fill="#f0eeec" stroke="#a89c98" stroke-width="0.6"/>
<rect x="518.0" y="50.0" width="7" height="2.6" rx="1.2" fill="#303030"/>
<rect x="518.0" y="81.9" width="7" height="2.6" rx="1.2" fill="#303030"/>
<rect x="520.7" y="52.0" width="1.6" height="3" fill="#303030"/>
<rect x="529.1" y="50.0" width="7" height="2.6" rx="1.2" fill="#303030"/>
<rect x="529.1" y="81.9" width="7" height="2.6" rx="1.2" fill="#303030"/>
<rect x="531.8" y="52.0" width="1.6" height="3" fill="#303030"/>
<ellipse cx="513.1" cy="61.4" rx="1.4" ry="3.4" fill="#3a3530"/>
<ellipse cx="542.7" cy="61.4" rx="1.4" ry="3.4" fill="#3a3530"/>
<ellipse cx="513.1" cy="73.1" rx="1.4" ry="3.4" fill="#3a3530"/>
<ellipse cx="542.7" cy="73.1" rx="1.4" ry="3.4" fill="#3a3530"/>
<rect x="515.6" y="54.0" width="24.6" height="26.5" fill="#e2302a"/>
<circle cx="523.0" cy="62.0" r="4.1" fill="#8c1414"/>
<circle cx="523.0" cy="73.3" r="4.1" fill="#8c1414"/>
<rect x="522.4" y="54.0" width="1.2" height="19.3" fill="#8c1414"/>
<circle cx="533.6" cy="62.0" r="4.1" fill="#8c1414"/>
<circle cx="533.6" cy="73.3" r="4.1" fill="#8c1414"/>
<rect x="533.0" y="54.0" width="1.2" height="19.3" fill="#8c1414"/>
<rect x="419.0" y="81.6" width="34.6" height="38.0" fill="#f0eeec" stroke="#a89c98" stroke-width="0.6"/>
<rect x="426.4" y="83.6" width="7" height="2.6" rx="1.2" fill="#9a7a40"/>
<rect x="426.4" y="115.5" width="7" height="2.6" rx="1.2" fill="#9a7a40"/>
<rect x="429.1" y="85.6" width="1.6" height="3" fill="#9a7a40"/>
<rect x="437.5" y="83.6" width="7" height="2.6" rx="1.2" fill="#9a7a40"/>
<rect x="437.5" y="115.5" width="7" height="2.6" rx="1.2" fill="#9a7a40"/>
<rect x="440.2" y="85.6" width="1.6" height="3" fill="#9a7a40"/>
<ellipse cx="421.5" cy="95.0" rx="1.4" ry="3.4" fill="#3a3530"/>
<ellipse cx="451.1" cy="95.0" rx="1.4" ry="3.4" fill="#3a3530"/>
<ellipse cx="421.5" cy="106.7" rx="1.4" ry="3.4" fill="#3a3530"/>
<ellipse cx="451.1" cy="106.7" rx="1.4" ry="3.4" fill="#3a3530"/>
<rect x="424.0" y="87.6" width="24.6" height="26.5" fill="#0e0606"/>
<rect x="449.0" y="81.6" width="34.6" height="38.0" fill="#f0eeec" stroke="#a89c98" stroke-width="0.6"/>
<rect x="456.4" y="83.6" width="7" height="2.6" rx="1.2" fill="#5a6a48"/>
<rect x="456.4" y="115.5" width="7" height="2.6" rx="1.2" fill="#5a6a48"/>
<rect x="459.1" y="85.6" width="1.6" height="3" fill="#5a6a48"/>
<rect x="467.5" y="83.6" width="7" height="2.6" rx="1.2" fill="#5a6a48"/>
<rect x="467.5" y="115.5" width="7" height="2.6" rx="1.2" fill="#5a6a48"/>
<rect x="470.2" y="85.6" width="1.6" height="3" fill="#5a6a48"/>
<ellipse cx="451.5" cy="95.0" rx="1.4" ry="3.4" fill="#3a3530"/>
<ellipse cx="481.1" cy="95.0" rx="1.4" ry="3.4" fill="#3a3530"/>
<ellipse cx="451.5" cy="106.7" rx="1.4" ry="3.4" fill="#3a3530"/>
<ellipse cx="481.1" cy="106.7" rx="1.4" ry="3.4" fill="#3a3530"/>
<rect x="454.0" y="87.6" width="24.6" height="26.5" fill="#1a0707"/>
<rect x="479.4" y="81.6" width="34.6" height="38.0" fill="#f0eeec" stroke="#a89c98" stroke-width="0.6"/>
<rect x="486.8" y="83.6" width="7" height="2.6" rx="1.2" fill="#404838"/>
<rect x="486.8" y="115.5" width="7" height="2.6" rx="1.2" fill="#404838"/>
<rect x="489.5" y="85.6" width="1.6" height="3" fill="#404838"/>
<rect x="497.9" y="83.6" width="7" height="2.6" rx="1.2" fill="#404838"/>
<rect x="497.9" y="115.5" width="7" height="2.6" rx="1.2" fill="#404838"/>
<rect x="500.6" y="85.6" width="1.6" height="3" fill="#404838"/>
<ellipse cx="481.9" cy="95.0" rx="1.4" ry="3.4" fill="#3a3530"/>
<ellipse cx="511.5" cy="95.0" rx="1.4" ry="3.4" fill="#3a3530"/>
<ellipse cx="481.9" cy="106.7" rx="1.4" ry="3.4" fill="#3a3530"/>
<ellipse cx="511.5" cy="106.7" rx="1.4" ry="3.4" fill="#3a3530"/>
<rect x="484.4" y="87.6" width="24.6" height="26.5" fill="#b41212"/>
<circle cx="491.8" cy="95.5" r="4.1" fill="#680a0a"/>
<circle cx="491.8" cy="106.9" r="4.1" fill="#680a0a"/>
<rect x="491.2" y="87.6" width="1.2" height="19.3" fill="#680a0a"/>
<circle cx="502.4" cy="95.5" r="4.1" fill="#680a0a"/>
<circle cx="502.4" cy="106.9" r="4.1" fill="#680a0a"/>
<rect x="501.8" y="87.6" width="1.2" height="19.3" fill="#680a0a"/>
<rect x="510.6" y="81.6" width="34.6" height="38.0" fill="#f0eeec" stroke="#a89c98" stroke-width="0.6"/>
<rect x="518.0" y="83.6" width="7" height="2.6" rx="1.2" fill="#404838"/>
<rect x="518.0" y="115.5" width="7" height="2.6" rx="1.2" fill="#404838"/>
<rect x="520.7" y="85.6" width="1.6" height="3" fill="#404838"/>
<rect x="529.1" y="83.6" width="7" height="2.6" rx="1.2" fill="#404838"/>
<rect x="529.1" y="115.5" width="7" height="2.6" rx="1.2" fill="#404838"/>
<rect x="531.8" y="85.6" width="1.6" height="3" fill="#404838"/>
<ellipse cx="513.1" cy="95.0" rx="1.4" ry="3.4" fill="#3a3530"/>
<ellipse cx="542.7" cy="95.0" rx="1.4" ry="3.4" fill="#3a3530"/>
<ellipse cx="513.1" cy="106.7" rx="1.4" ry="3.4" fill="#3a3530"/>
<ellipse cx="542.7" cy="106.7" rx="1.4" ry="3.4" fill="#3a3530"/>
<rect x="515.6" y="87.6" width="24.6" height="26.5" fill="#e62e28"/>
<circle cx="523.0" cy="95.5" r="4.1" fill="#8a1212"/>
<circle cx="523.0" cy="106.9" r="4.1" fill="#8a1212"/>
<rect x="522.4" y="87.6" width="1.2" height="19.3" fill="#8a1212"/>
<circle cx="533.6" cy="95.5" r="4.1" fill="#8a1212"/>
<circle cx="533.6" cy="106.9" r="4.1" fill="#8a1212"/>
<rect x="533.0" y="87.6" width="1.2" height="19.3" fill="#8a1212"/>
<rect x="419.0" y="117.0" width="34.6" height="38.0" fill="#f0eeec" stroke="#a89c98" stroke-width="0.6"/>
<rect x="426.4" y="119.0" width="7" height="2.6" rx="1.2" fill="#385a90"/>
<rect x="426.4" y="150.9" width="7" height="2.6" rx="1.2" fill="#385a90"/>
<rect x="429.1" y="121.0" width="1.6" height="3" fill="#385a90"/>
<rect x="437.5" y="119.0" width="7" height="2.6" rx="1.2" fill="#385a90"/>
<rect x="437.5" y="150.9" width="7" height="2.6" rx="1.2" fill="#385a90"/>
<rect x="440.2" y="121.0" width="1.6" height="3" fill="#385a90"/>
<ellipse cx="421.5" cy="130.4" rx="1.4" ry="3.4" fill="#2a5a9a"/>
<ellipse cx="451.1" cy="130.4" rx="1.4" ry="3.4" fill="#3a3530"/>
<ellipse cx="421.5" cy="142.1" rx="1.4" ry="3.4" fill="#2a5a9a"/>
<ellipse cx="451.1" cy="142.1" rx="1.4" ry="3.4" fill="#3a3530"/>
<rect x="424.0" y="123.0" width="24.6" height="26.5" fill="#0c0607"/>
<rect x="449.0" y="117.0" width="34.6" height="38.0" fill="#f0eeec" stroke="#a89c98" stroke-width="0.6"/>
<rect x="456.4" y="119.0" width="7" height="2.6" rx="1.2" fill="#3a4a60"/>
<rect x="456.4" y="150.9" width="7" height="2.6" rx="1.2" fill="#3a4a60"/>
<rect x="459.1" y="121.0" width="1.6" height="3" fill="#3a4a60"/>
<rect x="467.5" y="119.0" width="7" height="2.6" rx="1.2" fill="#3a4a60"/>
<rect x="467.5" y="150.9" width="7" height="2.6" rx="1.2" fill="#3a4a60"/>
<rect x="470.2" y="121.0" width="1.6" height="3" fill="#3a4a60"/>
<ellipse cx="451.5" cy="130.4" rx="1.4" ry="3.4" fill="#3a3530"/>
<ellipse cx="481.1" cy="130.4" rx="1.4" ry="3.4" fill="#3a3530"/>
<ellipse cx="451.5" cy="142.1" rx="1.4" ry="3.4" fill="#3a3530"/>
<ellipse cx="481.1" cy="142.1" rx="1.4" ry="3.4" fill="#3a3530"/>
<rect x="454.0" y="123.0" width="24.6" height="26.5" fill="#2a0a0a"/>
<rect x="479.4" y="117.0" width="34.6" height="38.0" fill="#f0eeec" stroke="#a89c98" stroke-width="0.6"/>
<rect x="486.8" y="119.0" width="7" height="2.6" rx="1.2" fill="#404040"/>
<rect x="486.8" y="150.9" width="7" height="2.6" rx="1.2" fill="#404040"/>
<rect x="489.5" y="121.0" width="1.6" height="3" fill="#404040"/>
<rect x="497.9" y="119.0" width="7" height="2.6" rx="1.2" fill="#404040"/>
<rect x="497.9" y="150.9" width="7" height="2.6" rx="1.2" fill="#404040"/>
<rect x="500.6" y="121.0" width="1.6" height="3" fill="#404040"/>
<ellipse cx="481.9" cy="130.4" rx="1.4" ry="3.4" fill="#3a3530"/>
<ellipse cx="511.5" cy="130.4" rx="1.4" ry="3.4" fill="#3a3530"/>
<ellipse cx="481.9" cy="142.1" rx="1.4" ry="3.4" fill="#3a3530"/>
<ellipse cx="511.5" cy="142.1" rx="1.4" ry="3.4" fill="#3a3530"/>
<rect x="484.4" y="123.0" width="24.6" height="26.5" fill="#c41818"/>
<circle cx="491.8" cy="130.9" r="4.1" fill="#780c0c"/>
<circle cx="491.8" cy="142.3" r="4.1" fill="#780c0c"/>
<rect x="491.2" y="123.0" width="1.2" height="19.3" fill="#780c0c"/>
<circle cx="502.4" cy="130.9" r="4.1" fill="#780c0c"/>
<circle cx="502.4" cy="142.3" r="4.1" fill="#780c0c"/>
<rect x="501.8" y="123.0" width="1.2" height="19.3" fill="#780c0c"/>
<rect x="510.6" y="117.0" width="34.6" height="38.0" fill="#f0eeec" stroke="#a89c98" stroke-width="0.6"/>
<rect x="518.0" y="119.0" width="7" height="2.6" rx="1.2" fill="#6a5a40"/>
<rect x="518.0" y="150.9" width="7" height="2.6" rx="1.2" fill="#6a5a40"/>
<rect x="520.7" y="121.0" width="1.6" height="3" fill="#6a5a40"/>
<rect x="529.1" y="119.0" width="7" height="2.6" rx="1.2" fill="#6a5a40"/>
<rect x="529.1" y="150.9" width="7" height="2.6" rx="1.2" fill="#6a5a40"/>
<rect x="531.8" y="121.0" width="1.6" height="3" fill="#6a5a40"/>
<ellipse cx="513.1" cy="130.4" rx="1.4" ry="3.4" fill="#3a3530"/>
<ellipse cx="542.7" cy="130.4" rx="1.4" ry="3.4" fill="#3a3530"/>
<ellipse cx="513.1" cy="142.1" rx="1.4" ry="3.4" fill="#3a3530"/>
<ellipse cx="542.7" cy="142.1" rx="1.4" ry="3.4" fill="#3a3530"/>
<rect x="515.6" y="123.0" width="24.6" height="26.5" fill="#e83028"/>
<circle cx="523.0" cy="130.9" r="4.1" fill="#961414"/>
<circle cx="523.0" cy="142.3" r="4.1" fill="#961414"/>
<rect x="522.4" y="123.0" width="1.2" height="19.3" fill="#961414"/>
<circle cx="533.6" cy="130.9" r="4.1" fill="#961414"/>
<circle cx="533.6" cy="142.3" r="4.1" fill="#961414"/>
<rect x="533.0" y="123.0" width="1.2" height="19.3" fill="#961414"/>
<line x1="420" y1="101" x2="543" y2="101" stroke="#f0e0e0" stroke-width="0.5" stroke-dasharray="1,1"/>
<text x="418.1" y="45.9" textLength="15.8" lengthAdjust="spacingAndGlyphs" style="font-size:7px" stroke="#222" stroke-width="0.3" fill="#222">X site</text>
<text x="448.3" y="46" textLength="64" lengthAdjust="spacingAndGlyphs" style="font-size:7.6px" stroke="#222" stroke-width="0.3" fill="#222">Increasing Br/(I+Br)</text>
<text transform="translate(415.9,52) rotate(-90)" text-anchor="middle" style="font-size:6.5px" fill="#222" stroke="#222" stroke-width="0.2">A site</text>
<text x="415.7" y="69.8" text-anchor="end" textLength="35.0" lengthAdjust="spacingAndGlyphs" style="font-weight:bold;font-size:9px" fill="#111" stroke="#111" stroke-width="0.2">CSFAMA</text>
<text x="415.7" y="102.7" text-anchor="end" textLength="20.0" lengthAdjust="spacingAndGlyphs" style="font-weight:bold;font-size:9px" fill="#111" stroke="#111" stroke-width="0.2">CSFA</text>
<text x="415.7" y="136.1" text-anchor="end" textLength="13.6" lengthAdjust="spacingAndGlyphs" style="font-weight:bold;font-size:9px" fill="#111" stroke="#111" stroke-width="0.2">MA</text>
<text x="367.5" y="164" textLength="49.4" lengthAdjust="spacingAndGlyphs" style="font-weight:bold;font-size:8.8px" fill="#111" stroke="#111" stroke-width="0.2">Abbreviation</text>
<text x="432.5" y="164.2" text-anchor="middle" textLength="12.7" lengthAdjust="spacingAndGlyphs" style="font-weight:bold;font-size:8.8px" fill="#111" stroke="#111" stroke-width="0.2">A-1</text>
<text x="465.1" y="164.2" text-anchor="middle" textLength="12.7" lengthAdjust="spacingAndGlyphs" style="font-weight:bold;font-size:8.8px" fill="#111" stroke="#111" stroke-width="0.2">A-2</text>
<text x="495.4" y="164.2" text-anchor="middle" textLength="12.7" lengthAdjust="spacingAndGlyphs" style="font-weight:bold;font-size:8.8px" fill="#111" stroke="#111" stroke-width="0.2">A-3</text>
<text x="528.2" y="164.2" text-anchor="middle" textLength="12.7" lengthAdjust="spacingAndGlyphs" style="font-weight:bold;font-size:8.8px" fill="#111" stroke="#111" stroke-width="0.2">A-4</text>
<text x="387.9" y="207.1" style="font-weight:bold;font-size:19px" fill="#000">(f)</text>
<clipPath id="clipf"><rect x="393.5" y="224.0" width="146.7" height="117.0"/></clipPath>
<path d="M393.50,253.25 C395.54,251.54 401.65,245.94 405.73,243.01 C409.80,240.09 413.88,237.75 417.95,235.70 C422.02,233.65 426.10,231.95 430.18,230.73 C434.25,229.51 438.33,228.83 442.40,228.39 C446.48,227.95 450.55,227.75 454.62,228.09 C458.70,228.44 462.78,229.66 466.85,230.44 C470.93,231.22 475.00,232.19 479.08,232.77 C483.15,233.36 485.19,233.85 491.30,233.94 C497.41,234.04 507.60,233.60 515.75,233.36 C523.90,233.12 536.12,232.63 540.20,232.48" fill="none" stroke="#ff5a5a" stroke-width="1" clip-path="url(#clipf)"/>
<path d="M393.50,256.18 C395.54,254.71 401.65,249.84 405.73,247.40 C409.80,244.96 413.88,243.16 417.95,241.55 C422.02,239.94 426.10,238.72 430.18,237.75 C434.25,236.77 438.33,236.14 442.40,235.70 C446.48,235.26 450.55,234.97 454.62,235.12 C458.70,235.26 460.74,235.65 466.85,236.58 C472.96,237.50 483.15,239.16 491.30,240.67 C499.45,242.18 507.60,243.94 515.75,245.65 C523.90,247.35 536.12,250.03 540.20,250.91" fill="none" stroke="#404040" stroke-width="1" clip-path="url(#clipf)"/>
<polyline points="393.5,289.8 442.4,252.7 491.3,266.1 540.2,276.9" fill="none" stroke="#404040" stroke-width="0.9"/>
<polyline points="393.5,305.9 442.4,259.7 491.3,250.6 540.2,248.0" fill="none" stroke="#ff4040" stroke-width="0.9"/>
<clipPath id="fpc1"><rect x="393.5" y="308.1" width="44.6" height="32.9"/></clipPath>
<clipPath id="fpc2"><rect x="438.1" y="308.1" width="32.1" height="32.9"/></clipPath>
<g clip-path="url(#fpc1)"><g filter="url(#blr)">
<rect x="390" y="305" width="52" height="40" fill="#5a5850"/>
<rect x="393" y="307" width="46" height="6" fill="#6a5e4a"/>
<rect x="400" y="308" width="20" height="4" fill="#4a4036"/>
<rect x="396" y="313" width="36" height="19" fill="#908c7c"/>
<rect x="394" y="313" width="3" height="22" fill="#3a4a50"/>
<rect x="430" y="310" width="8" height="26" fill="#505858"/>
<path d="M417,324 C419,320 423,320 424,323 L425,333 L419,336 L415,333 Z" fill="#c8b878"/>
<rect x="427" y="322" width="3" height="14" fill="#b8c0c8"/>
<path d="M393,333 C405,334 420,336 438,336 L438,342 L393,342 Z" fill="#2a6aa8"/>
<path d="M393,335 C399,334 405,336 408,342 L393,342 Z" fill="#f0c0b0"/>
</g>
<text x="414" y="322" text-anchor="middle" style="font-weight:bold;font-size:5.8px" fill="#1e1e1e" opacity="0.85">WELCOME</text>
<text x="413" y="327.6" text-anchor="middle" style="font-weight:bold;font-size:5.4px" fill="#1e1e1e" opacity="0.85">MELBOURNE</text>
</g>
<g clip-path="url(#fpc2)"><g filter="url(#blr)">
<rect x="436" y="305" width="36" height="40" fill="#7a6050"/>
<rect x="438" y="308" width="33" height="8" fill="#9a8878"/>
<path d="M438,318 C446,314 452,316 456,320 C460,326 462,334 458,342 L438,342 Z" fill="#e0a898"/>
<path d="M440,330 C446,327 452,328 455,333 L450,342 L438,342 Z" fill="#f0b8a8"/>
<path d="M449,315 L459,312 L463,323 L453,327 Z" fill="#8a5a38" stroke="#e03020" stroke-width="0.8"/>
<rect x="458" y="326" width="14" height="16" fill="#8a6a50"/>
<rect x="461" y="330" width="3" height="3" fill="#2a2020"/>
</g></g>
<rect x="438.5" y="308.5" width="31.3" height="32.1" fill="none" stroke="#ff3030" stroke-width="0.9" stroke-dasharray="1.3,0.9"/>
<line x1="393.7" y1="308.5" x2="438" y2="308.5" stroke="#222" stroke-width="0.8" stroke-dasharray="1.3,0.9"/>
<line x1="393.7" y1="340.5" x2="438" y2="340.5" stroke="#222" stroke-width="0.8" stroke-dasharray="1.3,0.9"/>
<circle cx="393.5" cy="289.8" r="2.5" fill="#111"/>
<circle cx="392.8" cy="289.1" r="0.9" fill="#aaa"/>
<circle cx="442.4" cy="252.7" r="2.5" fill="#111"/>
<circle cx="441.7" cy="252.0" r="0.9" fill="#aaa"/>
<circle cx="491.3" cy="266.1" r="2.5" fill="#111"/>
<circle cx="490.6" cy="265.4" r="0.9" fill="#aaa"/>
<circle cx="540.2" cy="276.9" r="2.5" fill="#111"/>
<circle cx="539.5" cy="276.2" r="0.9" fill="#aaa"/>
<circle cx="393.5" cy="305.9" r="2.5" fill="#ff2020"/>
<circle cx="392.8" cy="305.2" r="0.9" fill="#ffc0c0"/>
<circle cx="442.4" cy="259.7" r="2.5" fill="#ff2020"/>
<circle cx="441.7" cy="259.0" r="0.9" fill="#ffc0c0"/>
<circle cx="491.3" cy="250.6" r="2.5" fill="#ff2020"/>
<circle cx="490.6" cy="249.9" r="0.9" fill="#ffc0c0"/>
<circle cx="540.2" cy="248.0" r="2.5" fill="#ff2020"/>
<circle cx="539.5" cy="247.3" r="0.9" fill="#ffc0c0"/>
<rect x="393.5" y="224.0" width="146.7" height="117.0" fill="none" stroke="#555" stroke-width="1.1"/>
<line x1="391.0" y1="341.0" x2="393.5" y2="341.0" stroke="#555" stroke-width="0.9"/>
<text x="390.2" y="343.7" text-anchor="end" style="font-size:7.6px" fill="#333">1.0</text>
<line x1="391.0" y1="326.4" x2="393.5" y2="326.4" stroke="#555" stroke-width="0.9"/>
<text x="390.2" y="329.1" text-anchor="end" style="font-size:7.6px" fill="#333">1.5</text>
<line x1="391.0" y1="311.8" x2="393.5" y2="311.8" stroke="#555" stroke-width="0.9"/>
<text x="390.2" y="314.4" text-anchor="end" style="font-size:7.6px" fill="#333">2.0</text>
<line x1="391.0" y1="297.1" x2="393.5" y2="297.1" stroke="#555" stroke-width="0.9"/>
<text x="390.2" y="299.8" text-anchor="end" style="font-size:7.6px" fill="#333">2.5</text>
<line x1="391.0" y1="282.5" x2="393.5" y2="282.5" stroke="#555" stroke-width="0.9"/>
<text x="390.2" y="285.2" text-anchor="end" style="font-size:7.6px" fill="#333">3.0</text>
<line x1="391.0" y1="267.9" x2="393.5" y2="267.9" stroke="#555" stroke-width="0.9"/>
<text x="390.2" y="270.6" text-anchor="end" style="font-size:7.6px" fill="#333">3.5</text>
<line x1="391.0" y1="253.2" x2="393.5" y2="253.2" stroke="#555" stroke-width="0.9"/>
<text x="390.2" y="255.9" text-anchor="end" style="font-size:7.6px" fill="#333">4.0</text>
<line x1="391.0" y1="238.6" x2="393.5" y2="238.6" stroke="#555" stroke-width="0.9"/>
<text x="390.2" y="241.3" text-anchor="end" style="font-size:7.6px" fill="#333">4.5</text>
<line x1="391.0" y1="224.0" x2="393.5" y2="224.0" stroke="#555" stroke-width="0.9"/>
<text x="390.2" y="226.7" text-anchor="end" style="font-size:7.6px" fill="#333">5.0</text>
<line x1="393.5" y1="341.0" x2="393.5" y2="343.5" stroke="#555" stroke-width="0.9"/>
<text x="393.5" y="351.2" text-anchor="middle" style="font-size:7.6px" fill="#333">100</text>
<line x1="417.9" y1="341.0" x2="417.9" y2="343.5" stroke="#555" stroke-width="0.9"/>
<text x="417.9" y="351.2" text-anchor="middle" style="font-size:7.6px" fill="#333">150</text>
<line x1="442.4" y1="341.0" x2="442.4" y2="343.5" stroke="#555" stroke-width="0.9"/>
<text x="442.4" y="351.2" text-anchor="middle" style="font-size:7.6px" fill="#333">200</text>
<line x1="466.9" y1="341.0" x2="466.9" y2="343.5" stroke="#555" stroke-width="0.9"/>
<text x="466.9" y="351.2" text-anchor="middle" style="font-size:7.6px" fill="#333">250</text>
<line x1="491.3" y1="341.0" x2="491.3" y2="343.5" stroke="#555" stroke-width="0.9"/>
<text x="491.3" y="351.2" text-anchor="middle" style="font-size:7.6px" fill="#333">300</text>
<line x1="515.8" y1="341.0" x2="515.8" y2="343.5" stroke="#555" stroke-width="0.9"/>
<text x="515.8" y="351.2" text-anchor="middle" style="font-size:7.6px" fill="#333">350</text>
<line x1="540.2" y1="341.0" x2="540.2" y2="343.5" stroke="#555" stroke-width="0.9"/>
<text x="540.2" y="351.2" text-anchor="middle" style="font-size:7.6px" fill="#333">400</text>
<text x="467.2" y="363.8" text-anchor="middle" style="font-size:9.7px" fill="#222">Thickness of perovskite film</text>
<text transform="translate(377.7,281.5) rotate(-90)" text-anchor="middle" style="font-size:10.2px" fill="#222">LUE (%)</text>
<line x1="473" y1="294.4" x2="487.6" y2="294.4" stroke="#333" stroke-width="0.9"/>
<circle cx="480" cy="294.4" r="2" fill="#111"/>
<line x1="473" y1="303.4" x2="487.6" y2="303.4" stroke="#ff4040" stroke-width="0.9"/>
<circle cx="480" cy="303.4" r="2" fill="#ff2020"/>
<line x1="473" y1="312.0" x2="487.6" y2="312.0" stroke="#404040" stroke-width="0.9"/>
<line x1="473" y1="329.0" x2="487.6" y2="329.0" stroke="#ff5a5a" stroke-width="0.9"/>
<text x="490" y="296.8" style="font-size:6.8px" fill="#333">Eg: 1.73 eV</text>
<text x="490" y="305.8" style="font-size:6.8px" fill="#333">Eg: 1.81 eV</text>
<text x="490" y="314.4" style="font-size:6.8px" fill="#333">90% of S-Q limit</text>
<text x="490" y="322.9" style="font-size:6.8px" fill="#333">(1.73 eV)</text>
<text x="490" y="331.4" style="font-size:6.8px" fill="#333">90% of S-Q limit</text>
<text x="490" y="340.2" style="font-size:6.8px" fill="#333">(1.81 eV)</text>
</svg></body></html>
